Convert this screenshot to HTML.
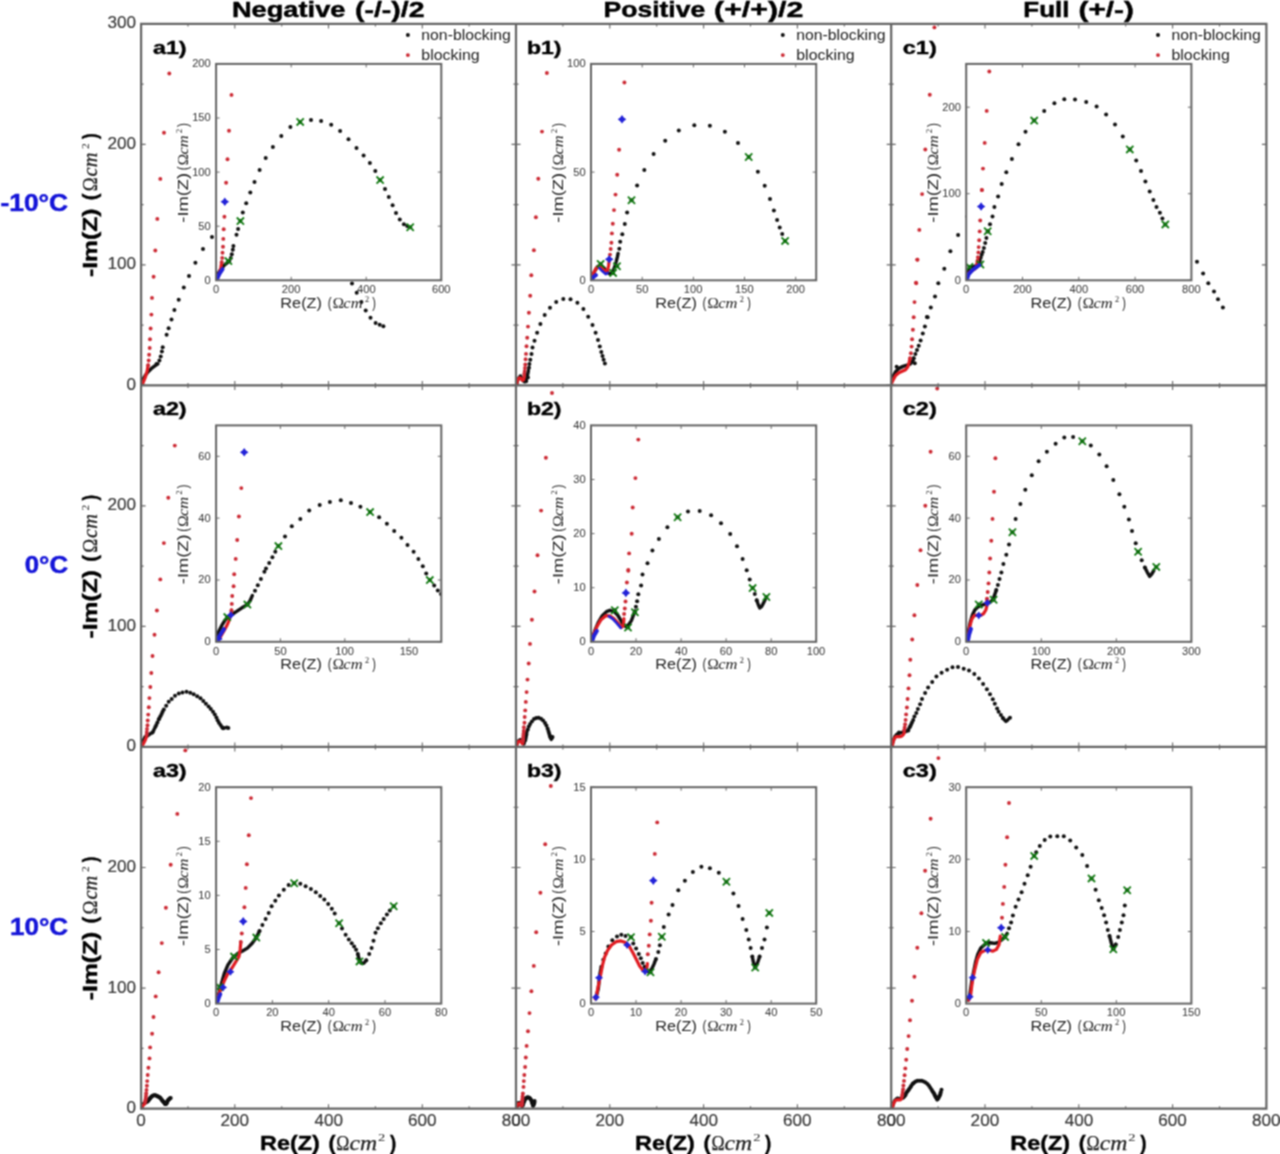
<!DOCTYPE html>
<html><head><meta charset="utf-8"><style>
html,body{margin:0;padding:0;background:#fff;}
svg{display:block;}
</style></head><body>
<svg width="1280" height="1154" viewBox="0 0 1280 1154">
<defs>
<filter id="blr" color-interpolation-filters="sRGB" x="0" y="0" width="1280" height="1154" filterUnits="userSpaceOnUse"><feConvolveMatrix order="3" kernelMatrix="1 2 1 2 4 2 1 2 1" divisor="16" edgeMode="duplicate"/></filter>
<clipPath id="ma1"><rect x="141.1" y="23.9" width="374.9" height="361.5"/></clipPath>
<clipPath id="ia1"><rect x="216.1" y="63.9" width="225.2" height="216.4"/></clipPath>
<clipPath id="mb1"><rect x="516.0" y="23.9" width="375.2" height="361.5"/></clipPath>
<clipPath id="ib1"><rect x="591.0" y="63.9" width="225.2" height="216.4"/></clipPath>
<clipPath id="mc1"><rect x="891.2" y="23.9" width="375.2" height="361.5"/></clipPath>
<clipPath id="ic1"><rect x="966.2" y="63.9" width="225.2" height="216.4"/></clipPath>
<clipPath id="ma2"><rect x="141.1" y="385.4" width="374.9" height="361.5"/></clipPath>
<clipPath id="ia2"><rect x="216.1" y="425.4" width="225.2" height="216.4"/></clipPath>
<clipPath id="mb2"><rect x="516.0" y="385.4" width="375.2" height="361.5"/></clipPath>
<clipPath id="ib2"><rect x="591.0" y="425.4" width="225.2" height="216.4"/></clipPath>
<clipPath id="mc2"><rect x="891.2" y="385.4" width="375.2" height="361.5"/></clipPath>
<clipPath id="ic2"><rect x="966.2" y="425.4" width="225.2" height="216.4"/></clipPath>
<clipPath id="ma3"><rect x="141.1" y="746.9" width="374.9" height="361.8"/></clipPath>
<clipPath id="ia3"><rect x="216.1" y="787.2" width="225.2" height="216.4"/></clipPath>
<clipPath id="mb3"><rect x="516.0" y="746.9" width="375.2" height="361.8"/></clipPath>
<clipPath id="ib3"><rect x="591.0" y="787.2" width="225.2" height="216.4"/></clipPath>
<clipPath id="mc3"><rect x="891.2" y="746.9" width="375.2" height="361.8"/></clipPath>
<clipPath id="ic3"><rect x="966.2" y="787.2" width="225.2" height="216.4"/></clipPath>
</defs>
<rect width="1280" height="1154" fill="#fff"/>
<g filter="url(#blr)">
<g clip-path="url(#ma1)">


<path d="M141.3 383.5 L142.9 379.4 L145.4 375.3 L147.9 372.0 L151.2 368.7 L154.5 366.2 L157.8 363.8" fill="none" stroke="#111" stroke-width="3.4" stroke-linejoin="round" stroke-linecap="round"/>

<g fill="#111"><circle cx="166.6" cy="334.8" r="2.0"/><circle cx="168.6" cy="328.2" r="2.0"/><circle cx="174.4" cy="309.9" r="2.0"/><circle cx="178.7" cy="299.7" r="2.0"/><circle cx="183.8" cy="287.5" r="2.0"/><circle cx="189.0" cy="276.0" r="2.0"/><circle cx="195.4" cy="262.7" r="2.0"/><circle cx="203.0" cy="249.1" r="2.0"/><circle cx="212.0" cy="237.1" r="2.0"/><circle cx="222.5" cy="224.6" r="2.0"/><circle cx="233.8" cy="214.5" r="2.0"/><circle cx="259.5" cy="206.9" r="2.0"/><circle cx="272.2" cy="207.9" r="2.0"/><circle cx="284.8" cy="212.1" r="2.0"/><circle cx="295.9" cy="219.1" r="2.0"/><circle cx="306.4" cy="228.2" r="2.0"/><circle cx="316.4" cy="237.9" r="2.0"/><circle cx="325.3" cy="246.5" r="2.0"/><circle cx="333.1" cy="254.6" r="2.0"/><circle cx="339.9" cy="263.8" r="2.0"/><circle cx="352.0" cy="283.6" r="2.0"/><circle cx="356.7" cy="292.7" r="2.0"/><circle cx="361.4" cy="301.9" r="2.0"/><circle cx="365.7" cy="310.5" r="2.0"/><circle cx="370.5" cy="317.8" r="2.0"/><circle cx="375.6" cy="323.0" r="2.0"/><circle cx="379.7" cy="324.8" r="2.0"/><circle cx="156.5" cy="364.0" r="2.0"/><circle cx="171.5" cy="319.5" r="2.0"/><circle cx="246.1" cy="208.9" r="2.0"/><circle cx="345.8" cy="273.9" r="2.0"/><circle cx="383.4" cy="326.3" r="2.0"/><circle cx="159.4" cy="360.5" r="2.0"/><circle cx="160.7" cy="356.4" r="2.0"/><circle cx="161.9" cy="351.4" r="2.0"/><circle cx="162.7" cy="347.3" r="2.0"/></g>
<path d="M148.1 365.2 L147.1 371.3 L145.2 377.4 L142.8 383.4" fill="none" stroke="#e01c22" stroke-width="3.2" stroke-linejoin="round" stroke-linecap="round"/>

<g fill="#cc2a34"><circle cx="160.3" cy="178.9" r="1.95"/><circle cx="157.3" cy="218.9" r="1.95"/><circle cx="155.3" cy="250.5" r="1.95"/><circle cx="153.6" cy="276.7" r="1.95"/><circle cx="151.4" cy="314.6" r="1.95"/><circle cx="150.6" cy="328.5" r="1.95"/><circle cx="150.0" cy="339.3" r="1.95"/><circle cx="149.7" cy="348.0" r="1.95"/><circle cx="149.1" cy="354.8" r="1.95"/><circle cx="148.7" cy="360.5" r="1.95"/><circle cx="148.1" cy="365.2" r="1.95"/><circle cx="152.0" cy="297.9" r="1.95"/><circle cx="169.3" cy="73.5" r="1.95"/><circle cx="164.0" cy="132.8" r="1.95"/></g>
</g>
<rect x="216.1" y="63.9" width="225.2" height="216.4" fill="#fff"/>
<g clip-path="url(#ia1)">


<path d="M216.3 278.6 L217.5 274.9 L219.5 271.2 L221.5 268.3 L224.2 265.3 L226.8 263.1 L229.5 260.9" fill="none" stroke="#111" stroke-width="3.4" stroke-linejoin="round" stroke-linecap="round"/>

<g fill="#111"><circle cx="236.5" cy="234.8" r="2.0"/><circle cx="238.1" cy="228.9" r="2.0"/><circle cx="242.8" cy="212.5" r="2.0"/><circle cx="246.2" cy="203.3" r="2.0"/><circle cx="250.3" cy="192.4" r="2.0"/><circle cx="254.5" cy="182.1" r="2.0"/><circle cx="259.6" cy="170.1" r="2.0"/><circle cx="265.7" cy="157.9" r="2.0"/><circle cx="272.9" cy="147.1" r="2.0"/><circle cx="281.3" cy="135.9" r="2.0"/><circle cx="290.4" cy="126.9" r="2.0"/><circle cx="311.0" cy="120.0" r="2.0"/><circle cx="321.1" cy="120.9" r="2.0"/><circle cx="331.2" cy="124.7" r="2.0"/><circle cx="340.1" cy="130.9" r="2.0"/><circle cx="348.5" cy="139.2" r="2.0"/><circle cx="356.5" cy="147.9" r="2.0"/><circle cx="363.6" cy="155.6" r="2.0"/><circle cx="369.9" cy="162.9" r="2.0"/><circle cx="375.3" cy="171.1" r="2.0"/><circle cx="385.0" cy="188.9" r="2.0"/><circle cx="388.8" cy="197.1" r="2.0"/><circle cx="392.6" cy="205.3" r="2.0"/><circle cx="396.0" cy="213.0" r="2.0"/><circle cx="399.8" cy="219.6" r="2.0"/><circle cx="403.9" cy="224.2" r="2.0"/><circle cx="407.2" cy="225.9" r="2.0"/><circle cx="228.4" cy="261.1" r="2.0"/><circle cx="240.4" cy="221.1" r="2.0"/><circle cx="300.2" cy="121.9" r="2.0"/><circle cx="380.1" cy="180.1" r="2.0"/><circle cx="410.2" cy="227.2" r="2.0"/><circle cx="230.8" cy="257.9" r="2.0"/><circle cx="231.8" cy="254.3" r="2.0"/><circle cx="232.8" cy="249.8" r="2.0"/><circle cx="233.4" cy="246.1" r="2.0"/></g>
<path d="M221.7 262.2 L220.9 267.6 L219.4 273.1 L217.5 278.5" fill="none" stroke="#e01c22" stroke-width="3.2" stroke-linejoin="round" stroke-linecap="round"/>

<g fill="#cc2a34"><circle cx="231.5" cy="94.9" r="1.95"/><circle cx="229.0" cy="130.8" r="1.95"/><circle cx="227.5" cy="159.2" r="1.95"/><circle cx="226.1" cy="182.7" r="1.95"/><circle cx="224.4" cy="216.7" r="1.95"/><circle cx="223.7" cy="229.2" r="1.95"/><circle cx="223.3" cy="238.9" r="1.95"/><circle cx="223.0" cy="246.7" r="1.95"/><circle cx="222.5" cy="252.8" r="1.95"/><circle cx="222.2" cy="257.9" r="1.95"/><circle cx="221.7" cy="262.2" r="1.95"/><circle cx="224.8" cy="201.8" r="1.95"/></g>
<path d="M224.8 257.5L232.0 264.7M224.8 264.7L232.0 257.5M236.8 217.5L244.0 224.7M236.8 224.7L244.0 217.5M296.6 118.3L303.8 125.5M296.6 125.5L303.8 118.3M376.5 176.5L383.7 183.7M376.5 183.7L383.7 176.5M406.6 223.6L413.8 230.8M406.6 230.8L413.8 223.6" stroke="#107a10" stroke-width="1.8" fill="none"/>
<path d="M217.0 278.9 L219.4 273.9 L222.5 269.2" fill="none" stroke="#2222d8" stroke-width="4" stroke-linejoin="round" stroke-linecap="round"/>


<path d="M224.8 197.5L226.6 200.0L229.1 201.8L226.6 203.6L224.8 206.1L223.0 203.6L220.5 201.8L223.0 200.0Z" fill="#2222d8"/>
</g>
<rect x="216.1" y="63.9" width="225.2" height="216.4" fill="none" stroke="#646464" stroke-width="2"/>
<g clip-path="url(#mb1)">
<path d="M516.6 384.5 L517.5 380.6 L519.0 377.8 L520.4 376.9 L521.8 378.5 L523.3 380.8 L524.7 381.8 L525.8 381.0 L526.8 378.0 L527.5 375.0 L528.1 372.4 L528.4 370.4" fill="none" stroke="#111" stroke-width="3.4" stroke-linejoin="round" stroke-linecap="round"/>



<g fill="#111"><circle cx="537.1" cy="332.7" r="2.0"/><circle cx="540.4" cy="324.0" r="2.0"/><circle cx="544.7" cy="315.1" r="2.0"/><circle cx="550.0" cy="307.7" r="2.0"/><circle cx="556.2" cy="302.0" r="2.0"/><circle cx="563.3" cy="299.0" r="2.0"/><circle cx="570.5" cy="299.3" r="2.0"/><circle cx="577.4" cy="302.7" r="2.0"/><circle cx="583.4" cy="308.9" r="2.0"/><circle cx="592.5" cy="325.0" r="2.0"/><circle cx="595.6" cy="332.8" r="2.0"/><circle cx="598.0" cy="340.1" r="2.0"/><circle cx="599.8" cy="346.6" r="2.0"/><circle cx="601.3" cy="351.9" r="2.0"/><circle cx="602.5" cy="356.0" r="2.0"/><circle cx="603.6" cy="359.7" r="2.0"/><circle cx="529.0" cy="367.8" r="2.0"/><circle cx="529.4" cy="363.9" r="2.0"/><circle cx="530.3" cy="359.8" r="2.0"/><circle cx="531.5" cy="354.1" r="2.0"/><circle cx="532.5" cy="347.6" r="2.0"/><circle cx="520.4" cy="376.3" r="2.0"/><circle cx="526.1" cy="381.3" r="2.0"/><circle cx="527.9" cy="377.6" r="2.0"/><circle cx="534.5" cy="340.8" r="2.0"/><circle cx="588.2" cy="316.7" r="2.0"/><circle cx="604.9" cy="363.5" r="2.0"/></g>
<path d="M516.6 384.5 L517.2 381.5 L518.3 378.9 L519.7 377.7 L521.1 378.8 L522.5 380.4 L523.6 379.8 L524.1 377.2 L524.4 374.1" fill="none" stroke="#e01c22" stroke-width="3.2" stroke-linejoin="round" stroke-linecap="round"/>

<g fill="#cc2a34"><circle cx="531.3" cy="275.2" r="1.95"/><circle cx="528.9" cy="312.7" r="1.95"/><circle cx="528.0" cy="326.6" r="1.95"/><circle cx="527.2" cy="337.7" r="1.95"/><circle cx="524.7" cy="371.1" r="1.95"/><circle cx="525.0" cy="368.0" r="1.95"/><circle cx="525.3" cy="364.5" r="1.95"/><circle cx="525.6" cy="359.3" r="1.95"/><circle cx="526.0" cy="353.9" r="1.95"/><circle cx="526.5" cy="346.3" r="1.95"/><circle cx="530.2" cy="295.8" r="1.95"/><circle cx="524.3" cy="373.7" r="1.95"/><circle cx="546.9" cy="73.0" r="1.95"/><circle cx="542.0" cy="131.6" r="1.95"/><circle cx="538.3" cy="178.8" r="1.95"/><circle cx="535.9" cy="217.3" r="1.95"/><circle cx="533.9" cy="250.2" r="1.95"/></g>
</g>
<rect x="591.0" y="63.9" width="225.2" height="216.4" fill="#fff"/>
<g clip-path="url(#ib1)">
<path d="M592.4 278.8 L594.4 271.7 L597.5 266.7 L600.6 265.1 L603.7 267.8 L606.8 272.1 L610.0 273.9 L612.3 272.4 L614.6 267.1 L616.2 261.6 L617.4 256.9 L618.1 253.4" fill="none" stroke="#111" stroke-width="3.4" stroke-linejoin="round" stroke-linecap="round"/>



<g fill="#111"><circle cx="637.1" cy="185.6" r="2.0"/><circle cx="644.3" cy="170.1" r="2.0"/><circle cx="653.6" cy="154.0" r="2.0"/><circle cx="665.2" cy="140.7" r="2.0"/><circle cx="678.8" cy="130.5" r="2.0"/><circle cx="694.3" cy="125.2" r="2.0"/><circle cx="709.9" cy="125.7" r="2.0"/><circle cx="724.9" cy="131.7" r="2.0"/><circle cx="738.0" cy="142.9" r="2.0"/><circle cx="757.9" cy="171.8" r="2.0"/><circle cx="764.7" cy="185.8" r="2.0"/><circle cx="770.0" cy="198.9" r="2.0"/><circle cx="773.9" cy="210.6" r="2.0"/><circle cx="777.1" cy="220.1" r="2.0"/><circle cx="779.7" cy="227.6" r="2.0"/><circle cx="782.2" cy="234.1" r="2.0"/><circle cx="619.3" cy="248.7" r="2.0"/><circle cx="620.2" cy="241.7" r="2.0"/><circle cx="622.3" cy="234.3" r="2.0"/><circle cx="624.8" cy="224.0" r="2.0"/><circle cx="627.1" cy="212.5" r="2.0"/><circle cx="600.6" cy="263.9" r="2.0"/><circle cx="613.1" cy="272.9" r="2.0"/><circle cx="617.0" cy="266.3" r="2.0"/><circle cx="631.5" cy="200.2" r="2.0"/><circle cx="748.7" cy="157.0" r="2.0"/><circle cx="785.1" cy="240.9" r="2.0"/></g>
<path d="M592.4 278.8 L593.6 273.3 L595.9 268.6 L599.0 266.4 L602.2 268.5 L605.3 271.3 L607.6 270.2 L608.6 265.5 L609.3 260.0" fill="none" stroke="#e01c22" stroke-width="3.2" stroke-linejoin="round" stroke-linecap="round"/>

<g fill="#cc2a34"><circle cx="624.4" cy="82.5" r="1.95"/><circle cx="619.1" cy="149.7" r="1.95"/><circle cx="617.2" cy="174.7" r="1.95"/><circle cx="615.5" cy="194.6" r="1.95"/><circle cx="610.0" cy="254.6" r="1.95"/><circle cx="610.7" cy="249.0" r="1.95"/><circle cx="611.4" cy="242.7" r="1.95"/><circle cx="611.9" cy="233.4" r="1.95"/><circle cx="612.8" cy="223.8" r="1.95"/><circle cx="614.0" cy="210.1" r="1.95"/><circle cx="622.0" cy="119.3" r="1.95"/><circle cx="609.2" cy="259.3" r="1.95"/></g>
<path d="M597.0 260.3L604.2 267.5M597.0 267.5L604.2 260.3M609.5 269.3L616.7 276.5M609.5 276.5L616.7 269.3M613.4 262.7L620.6 269.9M613.4 269.9L620.6 262.7M627.9 196.6L635.1 203.8M627.9 203.8L635.1 196.6M745.1 153.4L752.3 160.6M745.1 160.6L752.3 153.4M781.5 237.3L788.7 244.5M781.5 244.5L788.7 237.3" stroke="#107a10" stroke-width="1.8" fill="none"/>
<path d="M592.0 278.9 L593.6 276.8 L595.9 275.2" fill="none" stroke="#2222d8" stroke-width="4" stroke-linejoin="round" stroke-linecap="round"/>
<path d="M599.4 268.2 L602.5 271.3 L605.7 274.1 L607.6 272.9" fill="none" stroke="#2222d8" stroke-width="2.6" stroke-linejoin="round" stroke-linecap="round"/>

<path d="M622.0 115.0L623.8 117.5L626.3 119.3L623.8 121.2L622.0 123.6L620.2 121.2L617.7 119.3L620.2 117.5Z" fill="#2222d8"/><path d="M609.2 255.0L611.0 257.5L613.5 259.3L611.0 261.1L609.2 263.6L607.4 261.1L604.9 259.3L607.4 257.5Z" fill="#2222d8"/>
</g>
<rect x="591.0" y="63.9" width="225.2" height="216.4" fill="none" stroke="#646464" stroke-width="2"/>
<g clip-path="url(#mc1)">


<path d="M913.7 358.2 L912.9 360.6 L910.4 363.9 L907.1 365.2 L903.0 366.4 L898.9 368.4 L895.6 371.7 L893.1 376.3 L891.5 381.2 L890.3 384.5" fill="none" stroke="#111" stroke-width="3.4" stroke-linejoin="round" stroke-linecap="round"/>

<g fill="#111"><circle cx="935.0" cy="296.5" r="2.0"/><circle cx="938.3" cy="283.3" r="2.0"/><circle cx="944.3" cy="268.8" r="2.0"/><circle cx="950.4" cy="251.2" r="2.0"/><circle cx="958.1" cy="235.0" r="2.0"/><circle cx="967.4" cy="216.4" r="2.0"/><circle cx="978.3" cy="196.1" r="2.0"/><circle cx="990.0" cy="178.6" r="2.0"/><circle cx="1021.1" cy="149.5" r="2.0"/><circle cx="1038.1" cy="139.0" r="2.0"/><circle cx="1054.7" cy="133.3" r="2.0"/><circle cx="1072.5" cy="133.6" r="2.0"/><circle cx="1091.1" cy="137.4" r="2.0"/><circle cx="1108.5" cy="143.4" r="2.0"/><circle cx="1124.2" cy="154.6" r="2.0"/><circle cx="1139.2" cy="168.4" r="2.0"/><circle cx="1152.1" cy="185.3" r="2.0"/><circle cx="1174.4" cy="218.8" r="2.0"/><circle cx="1182.4" cy="233.3" r="2.0"/><circle cx="1189.7" cy="247.8" r="2.0"/><circle cx="1197.0" cy="261.7" r="2.0"/><circle cx="1203.1" cy="273.5" r="2.0"/><circle cx="1208.3" cy="283.3" r="2.0"/><circle cx="1214.0" cy="291.4" r="2.0"/><circle cx="1218.0" cy="299.2" r="2.0"/><circle cx="896.6" cy="366.7" r="2.0"/><circle cx="914.8" cy="363.3" r="2.0"/><circle cx="926.9" cy="317.1" r="2.0"/><circle cx="1004.6" cy="163.0" r="2.0"/><circle cx="1163.9" cy="203.2" r="2.0"/><circle cx="1222.9" cy="307.6" r="2.0"/><circle cx="930.8" cy="307.4" r="2.0"/><circle cx="927.6" cy="317.3" r="2.0"/><circle cx="924.9" cy="326.5" r="2.0"/><circle cx="922.8" cy="333.4" r="2.0"/><circle cx="920.6" cy="340.4" r="2.0"/><circle cx="918.7" cy="345.8" r="2.0"/><circle cx="917.0" cy="349.9" r="2.0"/><circle cx="915.4" cy="354.0" r="2.0"/><circle cx="913.7" cy="358.2" r="2.0"/></g>

<path d="M910.1 358.2 L909.1 362.3 L907.9 366.7 L905.5 369.7 L902.2 371.3 L898.9 372.7 L895.6 375.5 L893.1 379.9 L891.0 384.5" fill="none" stroke="#e01c22" stroke-width="3.2" stroke-linejoin="round" stroke-linecap="round"/>
<g fill="#cc2a34"><circle cx="929.8" cy="94.8" r="1.95"/><circle cx="925.3" cy="149.5" r="1.95"/><circle cx="922.1" cy="194.1" r="1.95"/><circle cx="919.3" cy="229.9" r="1.95"/><circle cx="917.2" cy="259.6" r="1.95"/><circle cx="916.0" cy="282.6" r="1.95"/><circle cx="917.5" cy="259.8" r="1.95"/><circle cx="916.2" cy="283.2" r="1.95"/><circle cx="914.5" cy="302.1" r="1.95"/><circle cx="913.7" cy="317.3" r="1.95"/><circle cx="912.9" cy="329.7" r="1.95"/><circle cx="912.1" cy="339.2" r="1.95"/><circle cx="911.6" cy="346.6" r="1.95"/><circle cx="910.9" cy="353.2" r="1.95"/><circle cx="910.1" cy="358.2" r="1.95"/><circle cx="934.4" cy="27.4" r="1.95"/></g>
</g>
<rect x="966.2" y="63.9" width="225.2" height="216.4" fill="#fff"/>
<g clip-path="url(#ic1)">


<path d="M979.7 260.7 L979.2 262.5 L977.7 264.9 L975.8 265.8 L973.3 266.6 L970.8 268.1 L968.8 270.4 L967.4 273.7 L966.4 277.3 L965.7 279.7" fill="none" stroke="#111" stroke-width="3.4" stroke-linejoin="round" stroke-linecap="round"/>

<g fill="#111"><circle cx="992.5" cy="216.4" r="2.0"/><circle cx="994.4" cy="206.9" r="2.0"/><circle cx="998.1" cy="196.5" r="2.0"/><circle cx="1001.7" cy="183.9" r="2.0"/><circle cx="1006.3" cy="172.2" r="2.0"/><circle cx="1011.9" cy="158.9" r="2.0"/><circle cx="1018.5" cy="144.3" r="2.0"/><circle cx="1025.5" cy="131.7" r="2.0"/><circle cx="1044.2" cy="110.9" r="2.0"/><circle cx="1054.4" cy="103.3" r="2.0"/><circle cx="1064.3" cy="99.2" r="2.0"/><circle cx="1075.0" cy="99.5" r="2.0"/><circle cx="1086.2" cy="102.1" r="2.0"/><circle cx="1096.6" cy="106.5" r="2.0"/><circle cx="1106.1" cy="114.5" r="2.0"/><circle cx="1115.0" cy="124.4" r="2.0"/><circle cx="1122.8" cy="136.6" r="2.0"/><circle cx="1136.2" cy="160.6" r="2.0"/><circle cx="1141.0" cy="171.0" r="2.0"/><circle cx="1145.4" cy="181.5" r="2.0"/><circle cx="1149.7" cy="191.4" r="2.0"/><circle cx="1153.4" cy="199.9" r="2.0"/><circle cx="1156.5" cy="206.9" r="2.0"/><circle cx="1159.9" cy="212.8" r="2.0"/><circle cx="1162.4" cy="218.4" r="2.0"/><circle cx="969.5" cy="266.9" r="2.0"/><circle cx="980.4" cy="264.5" r="2.0"/><circle cx="987.7" cy="231.2" r="2.0"/><circle cx="1034.2" cy="120.6" r="2.0"/><circle cx="1129.8" cy="149.4" r="2.0"/><circle cx="1165.3" cy="224.4" r="2.0"/><circle cx="990.0" cy="224.3" r="2.0"/><circle cx="988.0" cy="231.4" r="2.0"/><circle cx="986.4" cy="238.0" r="2.0"/><circle cx="985.2" cy="243.0" r="2.0"/><circle cx="983.9" cy="247.9" r="2.0"/><circle cx="982.7" cy="251.9" r="2.0"/><circle cx="981.7" cy="254.8" r="2.0"/><circle cx="980.7" cy="257.8" r="2.0"/><circle cx="979.7" cy="260.7" r="2.0"/></g>

<path d="M977.5 260.7 L976.9 263.7 L976.3 266.9 L974.8 269.0 L972.8 270.2 L970.8 271.1 L968.8 273.2 L967.4 276.3 L966.1 279.7" fill="none" stroke="#e01c22" stroke-width="3.2" stroke-linejoin="round" stroke-linecap="round"/>
<g fill="#cc2a34"><circle cx="989.3" cy="71.5" r="1.95"/><circle cx="986.7" cy="110.9" r="1.95"/><circle cx="984.7" cy="142.9" r="1.95"/><circle cx="983.0" cy="168.6" r="1.95"/><circle cx="981.8" cy="190.0" r="1.95"/><circle cx="981.1" cy="206.5" r="1.95"/><circle cx="982.0" cy="190.1" r="1.95"/><circle cx="981.2" cy="206.9" r="1.95"/><circle cx="980.2" cy="220.5" r="1.95"/><circle cx="979.7" cy="231.4" r="1.95"/><circle cx="979.2" cy="240.3" r="1.95"/><circle cx="978.7" cy="247.1" r="1.95"/><circle cx="978.4" cy="252.4" r="1.95"/><circle cx="978.0" cy="257.2" r="1.95"/><circle cx="977.5" cy="260.7" r="1.95"/></g>
<path d="M965.9 263.3L973.1 270.5M965.9 270.5L973.1 263.3M976.8 260.9L984.0 268.1M976.8 268.1L984.0 260.9M984.1 227.6L991.3 234.8M984.1 234.8L991.3 227.6M1030.6 117.0L1037.8 124.2M1030.6 124.2L1037.8 117.0M1126.2 145.8L1133.4 153.0M1126.2 153.0L1133.4 145.8M1161.7 220.8L1168.9 228.0M1161.7 228.0L1168.9 220.8" stroke="#107a10" stroke-width="1.8" fill="none"/>
<path d="M966.8 279.7 L968.7 274.2 L972.6 270.0 L976.7 266.9 L979.2 265.2" fill="none" stroke="#2222d8" stroke-width="4" stroke-linejoin="round" stroke-linecap="round"/>


<path d="M981.1 202.2L982.9 204.7L985.4 206.5L982.9 208.3L981.1 210.8L979.3 208.3L976.8 206.5L979.3 204.7Z" fill="#2222d8"/>
</g>
<rect x="966.2" y="63.9" width="225.2" height="216.4" fill="none" stroke="#646464" stroke-width="2"/>
<g clip-path="url(#ma2)">
<path d="M141.3 746.2 L141.4 744.8 L142.2 742.7 L143.2 740.5 L144.4 738.4 L145.7 737.0 L146.7 736.3 L148.5 735.1 L150.5 733.6 L152.5 732.4 L153.5 730.8 L154.3 728.9" fill="none" stroke="#111" stroke-width="3.4" stroke-linejoin="round" stroke-linecap="round"/>



<g fill="#111"><circle cx="159.3" cy="718.4" r="2.0"/><circle cx="160.4" cy="716.2" r="2.0"/><circle cx="161.6" cy="713.9" r="2.0"/><circle cx="162.6" cy="711.8" r="2.0"/><circle cx="166.2" cy="705.8" r="2.0"/><circle cx="168.7" cy="701.8" r="2.0"/><circle cx="171.7" cy="699.0" r="2.0"/><circle cx="175.0" cy="695.7" r="2.0"/><circle cx="178.8" cy="693.6" r="2.0"/><circle cx="182.5" cy="692.4" r="2.0"/><circle cx="186.5" cy="691.7" r="2.0"/><circle cx="190.2" cy="692.8" r="2.0"/><circle cx="193.7" cy="694.3" r="2.0"/><circle cx="200.5" cy="698.3" r="2.0"/><circle cx="203.3" cy="700.9" r="2.0"/><circle cx="205.9" cy="703.7" r="2.0"/><circle cx="208.6" cy="706.4" r="2.0"/><circle cx="210.8" cy="709.1" r="2.0"/><circle cx="213.0" cy="711.8" r="2.0"/><circle cx="214.8" cy="714.6" r="2.0"/><circle cx="216.4" cy="717.4" r="2.0"/><circle cx="217.6" cy="720.3" r="2.0"/><circle cx="220.5" cy="725.0" r="2.0"/><circle cx="221.9" cy="726.9" r="2.0"/><circle cx="223.0" cy="728.3" r="2.0"/><circle cx="155.3" cy="727.0" r="2.0"/><circle cx="156.3" cy="724.9" r="2.0"/><circle cx="157.4" cy="722.4" r="2.0"/><circle cx="158.7" cy="719.6" r="2.0"/><circle cx="163.8" cy="709.6" r="2.0"/><circle cx="197.2" cy="696.3" r="2.0"/><circle cx="218.9" cy="722.8" r="2.0"/><circle cx="152.5" cy="732.4" r="2.0"/><circle cx="145.2" cy="737.3" r="2.0"/><circle cx="223.9" cy="727.9" r="2.0"/><circle cx="226.8" cy="727.4" r="2.0"/><circle cx="228.3" cy="727.9" r="2.0"/></g>
<path d="M146.7 734.6 L146.4 736.5 L145.7 738.9 L144.9 740.8 L143.9 742.7 L142.9 744.6 L141.9 746.5" fill="none" stroke="#e01c22" stroke-width="3.2" stroke-linejoin="round" stroke-linecap="round"/>

<g fill="#cc2a34"><circle cx="150.3" cy="687.0" r="1.95"/><circle cx="149.4" cy="698.1" r="1.95"/><circle cx="148.8" cy="707.2" r="1.95"/><circle cx="148.2" cy="714.6" r="1.95"/><circle cx="147.7" cy="720.5" r="1.95"/><circle cx="147.5" cy="725.3" r="1.95"/><circle cx="147.0" cy="729.0" r="1.95"/><circle cx="146.8" cy="732.1" r="1.95"/><circle cx="146.7" cy="734.6" r="1.95"/><circle cx="151.3" cy="673.0" r="1.95"/><circle cx="174.8" cy="445.6" r="1.95"/><circle cx="168.3" cy="497.7" r="1.95"/><circle cx="163.9" cy="543.1" r="1.95"/><circle cx="160.3" cy="579.4" r="1.95"/><circle cx="156.9" cy="610.5" r="1.95"/><circle cx="154.5" cy="634.7" r="1.95"/><circle cx="152.5" cy="656.0" r="1.95"/></g>
</g>
<rect x="216.1" y="425.4" width="225.2" height="216.4" fill="#fff"/>
<g clip-path="url(#ia2)">
<path d="M216.6 640.0 L216.9 636.5 L219.0 631.0 L221.8 625.4 L225.2 619.9 L228.7 616.4 L231.5 614.7 L236.3 611.6 L241.9 607.8 L247.4 604.6 L250.2 600.5 L252.3 595.6" fill="none" stroke="#111" stroke-width="3.4" stroke-linejoin="round" stroke-linecap="round"/>



<g fill="#111"><circle cx="266.0" cy="568.6" r="2.0"/><circle cx="269.2" cy="563.1" r="2.0"/><circle cx="272.4" cy="557.2" r="2.0"/><circle cx="275.3" cy="551.7" r="2.0"/><circle cx="285.0" cy="536.4" r="2.0"/><circle cx="291.8" cy="526.2" r="2.0"/><circle cx="300.3" cy="518.9" r="2.0"/><circle cx="309.2" cy="510.4" r="2.0"/><circle cx="319.7" cy="505.1" r="2.0"/><circle cx="329.9" cy="501.9" r="2.0"/><circle cx="340.8" cy="500.2" r="2.0"/><circle cx="351.0" cy="502.9" r="2.0"/><circle cx="360.4" cy="506.8" r="2.0"/><circle cx="379.1" cy="517.2" r="2.0"/><circle cx="386.9" cy="523.8" r="2.0"/><circle cx="394.2" cy="531.0" r="2.0"/><circle cx="401.4" cy="537.8" r="2.0"/><circle cx="407.5" cy="544.9" r="2.0"/><circle cx="413.6" cy="551.7" r="2.0"/><circle cx="418.4" cy="558.9" r="2.0"/><circle cx="422.8" cy="566.2" r="2.0"/><circle cx="426.2" cy="573.5" r="2.0"/><circle cx="434.2" cy="585.6" r="2.0"/><circle cx="437.8" cy="590.5" r="2.0"/><circle cx="441.0" cy="594.1" r="2.0"/><circle cx="255.0" cy="590.8" r="2.0"/><circle cx="257.8" cy="585.2" r="2.0"/><circle cx="260.9" cy="579.0" r="2.0"/><circle cx="264.4" cy="571.7" r="2.0"/><circle cx="278.4" cy="546.1" r="2.0"/><circle cx="370.1" cy="512.1" r="2.0"/><circle cx="429.8" cy="580.1" r="2.0"/><circle cx="247.4" cy="604.6" r="2.0"/><circle cx="227.3" cy="617.1" r="2.0"/></g>
<path d="M231.5 610.2 L230.8 615.0 L228.7 621.3 L226.6 626.1 L223.9 631.0 L221.1 635.8 L218.3 640.7" fill="none" stroke="#e01c22" stroke-width="3.2" stroke-linejoin="round" stroke-linecap="round"/>

<g fill="#cc2a34"><circle cx="241.3" cy="488.1" r="1.95"/><circle cx="238.9" cy="516.5" r="1.95"/><circle cx="237.2" cy="540.0" r="1.95"/><circle cx="235.7" cy="558.9" r="1.95"/><circle cx="234.2" cy="574.2" r="1.95"/><circle cx="233.6" cy="586.3" r="1.95"/><circle cx="232.2" cy="596.0" r="1.95"/><circle cx="231.8" cy="603.9" r="1.95"/><circle cx="231.5" cy="610.2" r="1.95"/><circle cx="244.2" cy="452.2" r="1.95"/></g>
<path d="M274.8 542.5L282.0 549.7M274.8 549.7L282.0 542.5M366.5 508.5L373.7 515.7M366.5 515.7L373.7 508.5M426.2 576.5L433.4 583.7M426.2 583.7L433.4 576.5M243.8 601.0L251.0 608.2M243.8 608.2L251.0 601.0M223.7 613.5L230.9 620.7M223.7 620.7L230.9 613.5" stroke="#107a10" stroke-width="1.8" fill="none"/>
<path d="M217.6 641.0 L219.0 636.9 L221.8 632.4 L223.9 629.2" fill="none" stroke="#2222d8" stroke-width="4" stroke-linejoin="round" stroke-linecap="round"/>

<path d="M230.8 611.0L232.5 613.4L234.8 615.0L232.5 616.7L230.8 619.0L229.1 616.7L226.8 615.0L229.1 613.4Z" fill="#2222d8"/><path d="M218.7 634.9L220.3 637.3L222.7 638.9L220.3 640.6L218.7 642.9L217.0 640.6L214.7 638.9L217.0 637.3Z" fill="#2222d8"/>
<path d="M244.2 447.9L246.0 450.4L248.5 452.2L246.0 454.0L244.2 456.5L242.4 454.0L239.9 452.2L242.4 450.4Z" fill="#2222d8"/>
</g>
<rect x="216.1" y="425.4" width="225.2" height="216.4" fill="none" stroke="#646464" stroke-width="2"/>
<g clip-path="url(#mb2)">
<path d="M516.3 746.3 L516.8 744.5 L517.5 742.6 L518.4 741.1 L519.2 740.2 L519.9 739.9 L520.8 740.2 L521.5 740.9 L522.3 742.2 L522.8 743.3 L523.3 743.5 L523.8 743.1 L524.4 742.2 L524.9 740.9 L525.1 740.0" fill="none" stroke="#111" stroke-width="3.4" stroke-linejoin="round" stroke-linecap="round"/>
<path d="M550.5 737.6 L550.9 738.7 L551.2 739.4 L551.5 739.1 L552.0 738.2 L552.3 737.5" fill="none" stroke="#111" stroke-width="3.4" stroke-linejoin="round" stroke-linecap="round"/>


<g fill="#111"><circle cx="527.8" cy="729.4" r="2.0"/><circle cx="528.8" cy="726.6" r="2.0"/><circle cx="530.1" cy="724.0" r="2.0"/><circle cx="531.9" cy="721.4" r="2.0"/><circle cx="536.2" cy="717.9" r="2.0"/><circle cx="538.6" cy="717.7" r="2.0"/><circle cx="541.0" cy="718.7" r="2.0"/><circle cx="543.1" cy="720.5" r="2.0"/><circle cx="545.0" cy="722.9" r="2.0"/><circle cx="546.4" cy="725.6" r="2.0"/><circle cx="547.6" cy="728.4" r="2.0"/><circle cx="548.4" cy="731.0" r="2.0"/><circle cx="549.0" cy="733.0" r="2.0"/><circle cx="550.1" cy="736.3" r="2.0"/><circle cx="550.5" cy="737.6" r="2.0"/><circle cx="525.4" cy="739.1" r="2.0"/><circle cx="525.6" cy="737.9" r="2.0"/><circle cx="525.9" cy="736.3" r="2.0"/><circle cx="526.4" cy="734.4" r="2.0"/><circle cx="526.7" cy="731.9" r="2.0"/><circle cx="534.0" cy="719.1" r="2.0"/><circle cx="549.6" cy="734.9" r="2.0"/><circle cx="552.5" cy="736.9" r="2.0"/><circle cx="521.0" cy="739.9" r="2.0"/><circle cx="525.1" cy="740.3" r="2.0"/><circle cx="523.7" cy="743.7" r="2.0"/></g>
<path d="M516.2 746.6 L516.5 745.4 L517.2 743.6 L518.1 742.0 L519.1 741.1 L519.9 741.1 L520.8 741.8 L521.7 742.8 L522.4 743.6 L522.8 743.3 L522.9 741.7" fill="none" stroke="#e01c22" stroke-width="3.2" stroke-linejoin="round" stroke-linecap="round"/>

<g fill="#cc2a34"><circle cx="525.8" cy="701.9" r="1.95"/><circle cx="525.2" cy="710.4" r="1.95"/><circle cx="524.7" cy="717.0" r="1.95"/><circle cx="524.5" cy="722.8" r="1.95"/><circle cx="523.9" cy="727.2" r="1.95"/><circle cx="523.8" cy="730.9" r="1.95"/><circle cx="522.9" cy="740.7" r="1.95"/><circle cx="523.0" cy="739.5" r="1.95"/><circle cx="523.2" cy="737.9" r="1.95"/><circle cx="523.5" cy="733.7" r="1.95"/><circle cx="523.8" cy="731.1" r="1.95"/><circle cx="523.3" cy="736.0" r="1.95"/><circle cx="552.0" cy="393.0" r="1.95"/><circle cx="545.9" cy="457.7" r="1.95"/><circle cx="541.1" cy="510.6" r="1.95"/><circle cx="537.5" cy="555.2" r="1.95"/><circle cx="534.5" cy="591.5" r="1.95"/><circle cx="531.9" cy="619.7" r="1.95"/><circle cx="530.0" cy="643.9" r="1.95"/><circle cx="528.7" cy="663.5" r="1.95"/><circle cx="527.5" cy="679.6" r="1.95"/><circle cx="526.6" cy="692.1" r="1.95"/></g>
</g>
<rect x="591.0" y="425.4" width="225.2" height="216.4" fill="#fff"/>
<g clip-path="url(#ib2)">
<path d="M592.6 639.3 L594.7 631.0 L598.2 622.7 L602.3 615.7 L606.5 611.6 L609.9 610.3 L614.1 611.6 L617.6 615.0 L621.0 620.6 L623.8 625.4 L625.9 626.5 L628.6 624.7 L631.4 620.6 L633.5 615.0 L634.9 610.9" fill="none" stroke="#111" stroke-width="3.4" stroke-linejoin="round" stroke-linecap="round"/>
<path d="M756.7 600.2 L758.4 605.0 L759.8 608.0 L761.5 606.7 L763.7 602.6 L765.2 599.5" fill="none" stroke="#111" stroke-width="3.4" stroke-linejoin="round" stroke-linecap="round"/>


<g fill="#111"><circle cx="647.5" cy="563.3" r="2.0"/><circle cx="652.4" cy="550.4" r="2.0"/><circle cx="658.9" cy="539.0" r="2.0"/><circle cx="667.4" cy="527.2" r="2.0"/><circle cx="688.0" cy="511.6" r="2.0"/><circle cx="699.7" cy="510.9" r="2.0"/><circle cx="711.1" cy="515.3" r="2.0"/><circle cx="721.0" cy="523.3" r="2.0"/><circle cx="730.2" cy="533.9" r="2.0"/><circle cx="737.0" cy="546.3" r="2.0"/><circle cx="742.6" cy="558.9" r="2.0"/><circle cx="746.7" cy="570.3" r="2.0"/><circle cx="749.7" cy="579.6" r="2.0"/><circle cx="754.8" cy="594.1" r="2.0"/><circle cx="756.7" cy="600.2" r="2.0"/><circle cx="635.9" cy="606.7" r="2.0"/><circle cx="637.1" cy="601.2" r="2.0"/><circle cx="638.3" cy="594.2" r="2.0"/><circle cx="641.1" cy="585.6" r="2.0"/><circle cx="642.5" cy="574.5" r="2.0"/><circle cx="677.6" cy="517.2" r="2.0"/><circle cx="752.6" cy="588.1" r="2.0"/><circle cx="766.4" cy="597.0" r="2.0"/><circle cx="614.8" cy="610.2" r="2.0"/><circle cx="634.9" cy="612.3" r="2.0"/><circle cx="628.0" cy="627.5" r="2.0"/></g>
<path d="M591.9 640.7 L593.3 635.1 L596.8 626.8 L600.9 619.9 L605.8 615.7 L609.9 615.9 L614.1 618.8 L618.3 623.3 L621.7 627.2 L623.5 625.4 L623.9 618.5" fill="none" stroke="#e01c22" stroke-width="3.2" stroke-linejoin="round" stroke-linecap="round"/>

<g fill="#cc2a34"><circle cx="638.3" cy="439.6" r="1.95"/><circle cx="635.4" cy="478.1" r="1.95"/><circle cx="632.7" cy="507.5" r="1.95"/><circle cx="631.7" cy="533.7" r="1.95"/><circle cx="629.1" cy="553.4" r="1.95"/><circle cx="628.3" cy="569.9" r="1.95"/><circle cx="624.1" cy="614.0" r="1.95"/><circle cx="624.8" cy="608.5" r="1.95"/><circle cx="625.5" cy="601.5" r="1.95"/><circle cx="626.9" cy="582.5" r="1.95"/><circle cx="628.3" cy="570.7" r="1.95"/><circle cx="625.9" cy="592.9" r="1.95"/></g>
<path d="M674.0 513.6L681.2 520.8M674.0 520.8L681.2 513.6M749.0 584.5L756.2 591.7M749.0 591.7L756.2 584.5M762.8 593.4L770.0 600.6M762.8 600.6L770.0 593.4M611.2 606.6L618.4 613.8M611.2 613.8L618.4 606.6M631.3 608.7L638.5 615.9M631.3 615.9L638.5 608.7M624.4 623.9L631.6 631.1M624.4 631.1L631.6 623.9" stroke="#107a10" stroke-width="1.8" fill="none"/>
<path d="M591.9 641.4 L594.0 635.8 L596.8 631.0" fill="none" stroke="#2222d8" stroke-width="4" stroke-linejoin="round" stroke-linecap="round"/>
<path d="M608.9 616.3 L612.7 618.8 L616.9 623.3 L620.7 627.9" fill="none" stroke="#2222d8" stroke-width="2.6" stroke-linejoin="round" stroke-linecap="round"/>

<path d="M625.9 588.6L627.7 591.1L630.2 592.9L627.7 594.7L625.9 597.2L624.1 594.7L621.6 592.9L624.1 591.1Z" fill="#2222d8"/>
</g>
<rect x="591.0" y="425.4" width="225.2" height="216.4" fill="none" stroke="#646464" stroke-width="2"/>
<g clip-path="url(#mc2)">
<path d="M910.0 726.7 L909.0 728.4 L907.8 730.5 L905.9 731.6 L903.4 732.1 L901.0 732.6 L898.6 733.3 L896.6 734.5 L895.1 736.3 L893.7 739.4 L892.7 742.4 L892.0 745.5 L891.7 746.7" fill="none" stroke="#111" stroke-width="3.4" stroke-linejoin="round" stroke-linecap="round"/>
<path d="M1002.8 717.9 L1004.4 719.8 L1005.9 721.4 L1007.1 720.6 L1008.5 719.0" fill="none" stroke="#111" stroke-width="3.4" stroke-linejoin="round" stroke-linecap="round"/>


<g fill="#111"><circle cx="916.3" cy="713.0" r="2.0"/><circle cx="917.9" cy="708.9" r="2.0"/><circle cx="922.0" cy="699.0" r="2.0"/><circle cx="925.1" cy="693.1" r="2.0"/><circle cx="928.1" cy="687.6" r="2.0"/><circle cx="932.2" cy="682.0" r="2.0"/><circle cx="936.4" cy="676.5" r="2.0"/><circle cx="941.6" cy="672.8" r="2.0"/><circle cx="947.1" cy="669.7" r="2.0"/><circle cx="952.5" cy="667.3" r="2.0"/><circle cx="958.0" cy="667.1" r="2.0"/><circle cx="969.0" cy="670.4" r="2.0"/><circle cx="974.3" cy="673.9" r="2.0"/><circle cx="978.9" cy="678.5" r="2.0"/><circle cx="983.1" cy="683.9" r="2.0"/><circle cx="986.9" cy="689.3" r="2.0"/><circle cx="990.0" cy="694.3" r="2.0"/><circle cx="992.8" cy="699.2" r="2.0"/><circle cx="994.8" cy="703.7" r="2.0"/><circle cx="997.1" cy="708.5" r="2.0"/><circle cx="1000.9" cy="715.1" r="2.0"/><circle cx="1002.8" cy="717.9" r="2.0"/><circle cx="914.4" cy="716.5" r="2.0"/><circle cx="913.2" cy="719.9" r="2.0"/><circle cx="912.0" cy="722.5" r="2.0"/><circle cx="911.0" cy="724.8" r="2.0"/><circle cx="910.0" cy="726.7" r="2.0"/><circle cx="920.1" cy="704.2" r="2.0"/><circle cx="963.7" cy="668.7" r="2.0"/><circle cx="998.6" cy="711.8" r="2.0"/><circle cx="1010.0" cy="717.7" r="2.0"/><circle cx="899.0" cy="732.4" r="2.0"/><circle cx="908.3" cy="730.5" r="2.0"/></g>
<path d="M904.2 730.1 L904.2 732.7 L903.4 734.5 L902.0 736.0 L900.0 736.6 L898.1 736.5 L896.1 736.7 L894.6 738.2 L893.4 740.9 L892.7 743.9 L892.2 746.7" fill="none" stroke="#e01c22" stroke-width="3.2" stroke-linejoin="round" stroke-linecap="round"/>

<g fill="#cc2a34"><circle cx="909.5" cy="675.3" r="1.95"/><circle cx="908.5" cy="688.4" r="1.95"/><circle cx="907.6" cy="699.0" r="1.95"/><circle cx="906.9" cy="707.5" r="1.95"/><circle cx="906.1" cy="714.4" r="1.95"/><circle cx="905.6" cy="719.9" r="1.95"/><circle cx="905.1" cy="724.2" r="1.95"/><circle cx="904.7" cy="727.5" r="1.95"/><circle cx="904.2" cy="730.1" r="1.95"/><circle cx="937.2" cy="388.6" r="1.95"/><circle cx="930.6" cy="451.7" r="1.95"/><circle cx="925.3" cy="505.7" r="1.95"/><circle cx="920.5" cy="550.3" r="1.95"/><circle cx="917.3" cy="585.0" r="1.95"/><circle cx="914.4" cy="615.3" r="1.95"/><circle cx="912.2" cy="639.5" r="1.95"/><circle cx="910.3" cy="659.7" r="1.95"/></g>
</g>
<rect x="966.2" y="425.4" width="225.2" height="216.4" fill="#fff"/>
<g clip-path="url(#ic2)">
<path d="M996.3 590.1 L994.8 594.4 L992.8 599.8 L989.7 602.6 L985.8 603.8 L981.9 605.2 L978.0 606.9 L974.8 610.0 L972.5 614.7 L970.2 622.5 L968.6 630.3 L967.4 638.1 L967.0 641.2" fill="none" stroke="#111" stroke-width="3.4" stroke-linejoin="round" stroke-linecap="round"/>
<path d="M1144.9 567.4 L1147.3 572.3 L1149.7 576.4 L1151.7 574.2 L1153.9 570.3" fill="none" stroke="#111" stroke-width="3.4" stroke-linejoin="round" stroke-linecap="round"/>


<g fill="#111"><circle cx="1006.3" cy="554.8" r="2.0"/><circle cx="1009.0" cy="544.4" r="2.0"/><circle cx="1015.6" cy="518.9" r="2.0"/><circle cx="1020.4" cy="503.9" r="2.0"/><circle cx="1025.3" cy="489.8" r="2.0"/><circle cx="1031.8" cy="475.2" r="2.0"/><circle cx="1038.6" cy="461.2" r="2.0"/><circle cx="1046.9" cy="451.7" r="2.0"/><circle cx="1055.6" cy="443.7" r="2.0"/><circle cx="1064.3" cy="437.6" r="2.0"/><circle cx="1073.1" cy="437.1" r="2.0"/><circle cx="1090.8" cy="445.6" r="2.0"/><circle cx="1099.3" cy="454.6" r="2.0"/><circle cx="1106.6" cy="466.2" r="2.0"/><circle cx="1113.3" cy="480.1" r="2.0"/><circle cx="1119.4" cy="494.2" r="2.0"/><circle cx="1124.3" cy="506.8" r="2.0"/><circle cx="1128.9" cy="519.4" r="2.0"/><circle cx="1132.0" cy="531.0" r="2.0"/><circle cx="1135.7" cy="543.2" r="2.0"/><circle cx="1141.7" cy="560.2" r="2.0"/><circle cx="1144.9" cy="567.4" r="2.0"/><circle cx="1003.4" cy="563.9" r="2.0"/><circle cx="1001.4" cy="572.5" r="2.0"/><circle cx="999.5" cy="579.1" r="2.0"/><circle cx="997.9" cy="585.0" r="2.0"/><circle cx="996.3" cy="590.1" r="2.0"/><circle cx="1012.4" cy="532.2" r="2.0"/><circle cx="1082.3" cy="441.3" r="2.0"/><circle cx="1138.1" cy="551.7" r="2.0"/><circle cx="1156.3" cy="566.9" r="2.0"/><circle cx="978.8" cy="604.5" r="2.0"/><circle cx="993.6" cy="599.8" r="2.0"/></g>
<path d="M987.0 598.7 L987.0 605.3 L985.8 610.0 L983.4 613.9 L980.3 615.5 L977.2 615.1 L974.1 615.6 L971.7 619.4 L969.8 626.4 L968.6 634.2 L967.8 641.2" fill="none" stroke="#e01c22" stroke-width="3.2" stroke-linejoin="round" stroke-linecap="round"/>

<g fill="#cc2a34"><circle cx="995.4" cy="458.2" r="1.95"/><circle cx="994.0" cy="491.7" r="1.95"/><circle cx="992.5" cy="518.9" r="1.95"/><circle cx="991.3" cy="540.7" r="1.95"/><circle cx="990.1" cy="558.5" r="1.95"/><circle cx="989.3" cy="572.5" r="1.95"/><circle cx="988.5" cy="583.4" r="1.95"/><circle cx="987.7" cy="592.0" r="1.95"/><circle cx="987.0" cy="598.7" r="1.95"/></g>
<path d="M1008.8 528.6L1016.0 535.8M1008.8 535.8L1016.0 528.6M1078.7 437.7L1085.9 444.9M1078.7 444.9L1085.9 437.7M1134.5 548.1L1141.7 555.3M1134.5 555.3L1141.7 548.1M1152.7 563.3L1159.9 570.5M1152.7 570.5L1159.9 563.3M975.1 600.9L982.4 608.1M975.1 608.1L982.4 600.9M990.0 596.2L997.2 603.4M990.0 603.4L997.2 596.2" stroke="#107a10" stroke-width="1.8" fill="none"/>
<path d="M967.8 641.2 L969.0 635.0 L970.9 628.8" fill="none" stroke="#2222d8" stroke-width="4" stroke-linejoin="round" stroke-linecap="round"/>

<path d="M978.8 611.5L980.4 613.8L982.8 615.5L980.4 617.1L978.8 619.5L977.1 617.1L974.8 615.5L977.1 613.8Z" fill="#2222d8"/><path d="M987.3 599.0L989.0 601.3L991.3 603.0L989.0 604.6L987.3 607.0L985.7 604.6L983.3 603.0L985.7 601.3Z" fill="#2222d8"/>

</g>
<rect x="966.2" y="425.4" width="225.2" height="216.4" fill="none" stroke="#646464" stroke-width="2"/>
<g clip-path="url(#ma3)">
<path d="M141.2 1108.6 L141.5 1107.6 L141.9 1106.6 L142.5 1105.3 L143.1 1104.4 L143.9 1103.6 L144.7 1103.1 L145.5 1102.8 L146.3 1102.5 L147.1 1102.0 L147.8 1101.3 L148.3 1100.6" fill="none" stroke="#111" stroke-width="3.4" stroke-linejoin="round" stroke-linecap="round"/>
<path d="M164.7 1103.2 L165.0 1103.9 L165.3 1104.2 L165.7 1104.2 L166.1 1103.9" fill="none" stroke="#111" stroke-width="3.4" stroke-linejoin="round" stroke-linecap="round"/>


<g fill="#111"><circle cx="148.3" cy="1100.6" r="2.0"/><circle cx="148.8" cy="1099.9" r="2.0"/><circle cx="149.3" cy="1099.3" r="2.0"/><circle cx="149.9" cy="1098.6" r="2.0"/><circle cx="150.3" cy="1097.9" r="2.0"/><circle cx="150.9" cy="1097.2" r="2.0"/><circle cx="151.6" cy="1096.6" r="2.0"/><circle cx="152.4" cy="1096.0" r="2.0"/><circle cx="153.2" cy="1095.5" r="2.0"/><circle cx="155.1" cy="1095.3" r="2.0"/><circle cx="156.0" cy="1095.6" r="2.0"/><circle cx="156.9" cy="1095.9" r="2.0"/><circle cx="157.7" cy="1096.3" r="2.0"/><circle cx="158.4" cy="1096.7" r="2.0"/><circle cx="159.1" cy="1097.1" r="2.0"/><circle cx="159.8" cy="1097.6" r="2.0"/><circle cx="160.4" cy="1098.1" r="2.0"/><circle cx="160.8" cy="1098.6" r="2.0"/><circle cx="162.1" cy="1100.3" r="2.0"/><circle cx="162.7" cy="1101.0" r="2.0"/><circle cx="163.2" cy="1101.6" r="2.0"/><circle cx="163.7" cy="1102.0" r="2.0"/><circle cx="164.1" cy="1102.3" r="2.0"/><circle cx="164.4" cy="1102.7" r="2.0"/><circle cx="164.7" cy="1103.2" r="2.0"/><circle cx="166.1" cy="1103.9" r="2.0"/><circle cx="166.6" cy="1103.2" r="2.0"/><circle cx="167.0" cy="1102.5" r="2.0"/><circle cx="167.3" cy="1101.7" r="2.0"/><circle cx="167.6" cy="1100.8" r="2.0"/><circle cx="168.0" cy="1100.3" r="2.0"/><circle cx="168.5" cy="1099.8" r="2.0"/><circle cx="169.0" cy="1099.3" r="2.0"/><circle cx="169.5" cy="1098.8" r="2.0"/><circle cx="170.0" cy="1098.3" r="2.0"/><circle cx="141.7" cy="1106.8" r="2.0"/><circle cx="144.1" cy="1103.5" r="2.0"/><circle cx="147.8" cy="1101.3" r="2.0"/><circle cx="154.1" cy="1095.3" r="2.0"/><circle cx="161.6" cy="1099.8" r="2.0"/><circle cx="165.0" cy="1104.0" r="2.0"/><circle cx="170.7" cy="1097.9" r="2.0"/></g>
<path d="M141.2 1108.6 L141.5 1107.9 L141.9 1107.1 L142.5 1106.2 L143.1 1105.3 L143.8 1104.7 L144.4 1104.1 L144.9 1103.5 L145.1 1102.7 L145.2 1101.8" fill="none" stroke="#e01c22" stroke-width="3.2" stroke-linejoin="round" stroke-linecap="round"/>

<g fill="#cc2a34"><circle cx="146.9" cy="1085.8" r="1.95"/><circle cx="146.5" cy="1089.9" r="1.95"/><circle cx="146.2" cy="1093.2" r="1.95"/><circle cx="146.0" cy="1095.8" r="1.95"/><circle cx="145.8" cy="1098.0" r="1.95"/><circle cx="145.4" cy="1100.9" r="1.95"/><circle cx="145.2" cy="1101.8" r="1.95"/><circle cx="145.6" cy="1099.5" r="1.95"/><circle cx="185.3" cy="750.4" r="1.95"/><circle cx="177.3" cy="813.9" r="1.95"/><circle cx="170.7" cy="864.8" r="1.95"/><circle cx="165.9" cy="907.7" r="1.95"/><circle cx="161.8" cy="943.1" r="1.95"/><circle cx="158.6" cy="972.2" r="1.95"/><circle cx="155.7" cy="996.4" r="1.95"/><circle cx="153.5" cy="1017.0" r="1.95"/><circle cx="152.1" cy="1033.8" r="1.95"/><circle cx="150.1" cy="1047.4" r="1.95"/><circle cx="149.5" cy="1058.4" r="1.95"/><circle cx="148.4" cy="1067.7" r="1.95"/><circle cx="147.7" cy="1075.0" r="1.95"/><circle cx="147.2" cy="1081.1" r="1.95"/></g>
</g>
<rect x="216.1" y="787.2" width="225.2" height="216.4" fill="#fff"/>
<g clip-path="url(#ia3)">
<path d="M216.8 1002.7 L218.7 994.2 L221.2 984.5 L224.3 973.5 L227.9 965.0 L232.8 957.8 L237.7 953.4 L242.5 951.0 L247.4 948.1 L252.2 943.2 L256.3 937.6 L259.5 931.1" fill="none" stroke="#111" stroke-width="3.4" stroke-linejoin="round" stroke-linecap="round"/>
<path d="M357.8 954.1 L359.5 960.2 L361.4 963.3 L363.8 963.3 L366.3 960.2" fill="none" stroke="#111" stroke-width="3.4" stroke-linejoin="round" stroke-linecap="round"/>


<g fill="#111"><circle cx="259.5" cy="931.1" r="2.0"/><circle cx="262.4" cy="925.0" r="2.0"/><circle cx="265.6" cy="918.9" r="2.0"/><circle cx="268.7" cy="912.9" r="2.0"/><circle cx="271.6" cy="906.3" r="2.0"/><circle cx="275.3" cy="900.7" r="2.0"/><circle cx="278.9" cy="895.4" r="2.0"/><circle cx="283.8" cy="889.8" r="2.0"/><circle cx="288.6" cy="885.0" r="2.0"/><circle cx="300.3" cy="883.8" r="2.0"/><circle cx="305.6" cy="886.2" r="2.0"/><circle cx="310.9" cy="889.1" r="2.0"/><circle cx="315.8" cy="892.2" r="2.0"/><circle cx="320.2" cy="895.9" r="2.0"/><circle cx="324.3" cy="899.5" r="2.0"/><circle cx="328.2" cy="903.9" r="2.0"/><circle cx="331.8" cy="908.8" r="2.0"/><circle cx="334.7" cy="913.4" r="2.0"/><circle cx="342.0" cy="928.6" r="2.0"/><circle cx="345.6" cy="934.7" r="2.0"/><circle cx="348.8" cy="939.6" r="2.0"/><circle cx="351.7" cy="943.2" r="2.0"/><circle cx="354.1" cy="946.4" r="2.0"/><circle cx="356.1" cy="949.8" r="2.0"/><circle cx="357.8" cy="954.1" r="2.0"/><circle cx="366.3" cy="960.2" r="2.0"/><circle cx="369.2" cy="954.1" r="2.0"/><circle cx="371.6" cy="948.1" r="2.0"/><circle cx="373.5" cy="940.8" r="2.0"/><circle cx="375.5" cy="932.8" r="2.0"/><circle cx="377.9" cy="928.2" r="2.0"/><circle cx="380.8" cy="923.3" r="2.0"/><circle cx="383.7" cy="918.9" r="2.0"/><circle cx="386.9" cy="914.6" r="2.0"/><circle cx="389.8" cy="910.4" r="2.0"/><circle cx="219.5" cy="986.9" r="2.0"/><circle cx="234.0" cy="956.6" r="2.0"/><circle cx="256.3" cy="937.6" r="2.0"/><circle cx="294.2" cy="883.3" r="2.0"/><circle cx="339.1" cy="923.3" r="2.0"/><circle cx="359.5" cy="961.4" r="2.0"/><circle cx="393.7" cy="906.3" r="2.0"/></g>
<path d="M216.8 1002.7 L218.2 996.6 L220.7 989.3 L224.3 980.8 L227.9 973.5 L232.3 967.5 L235.7 961.9 L238.9 956.6 L240.1 950.0 L240.8 942.0" fill="none" stroke="#e01c22" stroke-width="3.2" stroke-linejoin="round" stroke-linecap="round"/>

<g fill="#cc2a34"><circle cx="251.0" cy="798.1" r="1.95"/><circle cx="248.8" cy="835.2" r="1.95"/><circle cx="246.9" cy="864.3" r="1.95"/><circle cx="245.7" cy="887.9" r="1.95"/><circle cx="244.4" cy="907.3" r="1.95"/><circle cx="241.8" cy="933.5" r="1.95"/><circle cx="240.8" cy="942.0" r="1.95"/><circle cx="243.2" cy="921.4" r="1.95"/></g>
<path d="M215.9 983.3L223.1 990.5M215.9 990.5L223.1 983.3M230.4 953.0L237.6 960.2M230.4 960.2L237.6 953.0M252.7 934.0L259.9 941.2M252.7 941.2L259.9 934.0M290.6 879.7L297.8 886.9M290.6 886.9L297.8 879.7M335.5 919.7L342.7 926.9M335.5 926.9L342.7 919.7M355.9 957.8L363.1 965.0M355.9 965.0L363.1 957.8M390.1 902.7L397.3 909.9M390.1 909.9L397.3 902.7" stroke="#107a10" stroke-width="1.8" fill="none"/>
<path d="M217.3 1002.2 L218.7 997.8 L220.2 994.2" fill="none" stroke="#2222d8" stroke-width="4" stroke-linejoin="round" stroke-linecap="round"/>

<path d="M223.1 983.4L224.8 985.7L227.1 987.4L224.8 989.1L223.1 991.4L221.4 989.1L219.1 987.4L221.4 985.7Z" fill="#2222d8"/><path d="M230.4 967.8L232.1 970.2L234.4 971.8L232.1 973.5L230.4 975.8L228.7 973.5L226.4 971.8L228.7 970.2Z" fill="#2222d8"/>
<path d="M243.2 917.1L245.0 919.6L247.5 921.4L245.0 923.2L243.2 925.7L241.4 923.2L238.9 921.4L241.4 919.6Z" fill="#2222d8"/>
</g>
<rect x="216.1" y="787.2" width="225.2" height="216.4" fill="none" stroke="#646464" stroke-width="2"/>
<g clip-path="url(#mb3)">
<path d="M516.5 1108.3 L516.6 1108.0 L516.8 1107.4 L516.9 1106.3 L517.0 1105.8" fill="none" stroke="#111" stroke-width="3.4" stroke-linejoin="round" stroke-linecap="round"/>
<path d="M532.8 1104.8 L532.9 1105.3 L533.1 1105.7 L533.3 1105.4 L533.4 1105.1 L533.6 1104.8" fill="none" stroke="#111" stroke-width="3.4" stroke-linejoin="round" stroke-linecap="round"/>

<path d="M521.6 1105.6 L521.7 1105.9 L521.9 1106.0 L522.1 1106.0 L522.4 1105.8 L522.6 1105.4 L522.7 1105.0" fill="none" stroke="#111" stroke-width="3.4" stroke-linejoin="round" stroke-linecap="round"/>
<g fill="#111"><circle cx="524.1" cy="1101.3" r="2.0"/><circle cx="524.5" cy="1100.5" r="2.0"/><circle cx="525.1" cy="1099.2" r="2.0"/><circle cx="525.8" cy="1098.4" r="2.0"/><circle cx="526.6" cy="1097.7" r="2.0"/><circle cx="527.5" cy="1097.3" r="2.0"/><circle cx="528.4" cy="1097.4" r="2.0"/><circle cx="529.3" cy="1097.8" r="2.0"/><circle cx="530.8" cy="1099.5" r="2.0"/><circle cx="531.4" cy="1100.5" r="2.0"/><circle cx="531.8" cy="1101.6" r="2.0"/><circle cx="532.2" cy="1102.5" r="2.0"/><circle cx="532.4" cy="1103.3" r="2.0"/><circle cx="532.6" cy="1104.1" r="2.0"/><circle cx="532.8" cy="1104.8" r="2.0"/><circle cx="533.6" cy="1104.8" r="2.0"/><circle cx="533.8" cy="1104.1" r="2.0"/><circle cx="534.1" cy="1103.3" r="2.0"/><circle cx="534.3" cy="1102.3" r="2.0"/><circle cx="517.1" cy="1105.6" r="2.0"/><circle cx="517.3" cy="1105.0" r="2.0"/><circle cx="517.5" cy="1104.5" r="2.0"/><circle cx="517.8" cy="1103.9" r="2.0"/><circle cx="518.2" cy="1103.4" r="2.0"/><circle cx="518.7" cy="1103.1" r="2.0"/><circle cx="519.2" cy="1102.9" r="2.0"/><circle cx="519.6" cy="1103.0" r="2.0"/><circle cx="520.4" cy="1103.7" r="2.0"/><circle cx="520.7" cy="1104.1" r="2.0"/><circle cx="521.0" cy="1104.5" r="2.0"/><circle cx="521.2" cy="1104.9" r="2.0"/><circle cx="521.4" cy="1105.3" r="2.0"/><circle cx="521.6" cy="1105.6" r="2.0"/><circle cx="522.8" cy="1105.0" r="2.0"/><circle cx="523.0" cy="1104.4" r="2.0"/><circle cx="523.2" cy="1103.8" r="2.0"/><circle cx="523.6" cy="1102.3" r="2.0"/><circle cx="530.1" cy="1098.5" r="2.0"/><circle cx="533.1" cy="1105.7" r="2.0"/><circle cx="534.6" cy="1101.1" r="2.0"/><circle cx="520.2" cy="1103.1" r="2.0"/><circle cx="522.2" cy="1106.1" r="2.0"/><circle cx="523.4" cy="1103.1" r="2.0"/></g>
<path d="M516.4 1108.3 L516.6 1107.9 L516.8 1106.9 L517.0 1106.1 L517.2 1105.5 L517.4 1104.8 L517.7 1104.3 L518.1 1103.8 L518.6 1103.5 L519.1 1103.5 L519.6 1103.6 L520.0 1103.9 L520.4 1104.5 L520.7 1105.0 L521.1 1105.6 L521.4 1105.9 L521.6 1106.0 L521.8 1105.9 L521.9 1105.4" fill="none" stroke="#e01c22" stroke-width="3.2" stroke-linejoin="round" stroke-linecap="round"/>

<g fill="#cc2a34"><circle cx="522.9" cy="1093.5" r="1.95"/><circle cx="522.6" cy="1096.2" r="1.95"/><circle cx="522.3" cy="1100.3" r="1.95"/><circle cx="521.9" cy="1104.6" r="1.95"/><circle cx="522.0" cy="1103.9" r="1.95"/><circle cx="522.1" cy="1102.9" r="1.95"/><circle cx="522.2" cy="1101.8" r="1.95"/><circle cx="522.5" cy="1098.4" r="1.95"/><circle cx="550.8" cy="786.0" r="1.95"/><circle cx="545.2" cy="844.2" r="1.95"/><circle cx="540.4" cy="892.7" r="1.95"/><circle cx="536.2" cy="932.2" r="1.95"/><circle cx="533.8" cy="965.9" r="1.95"/><circle cx="531.4" cy="991.3" r="1.95"/><circle cx="529.5" cy="1013.1" r="1.95"/><circle cx="528.0" cy="1031.3" r="1.95"/><circle cx="526.6" cy="1045.9" r="1.95"/><circle cx="525.8" cy="1057.5" r="1.95"/><circle cx="525.1" cy="1067.0" r="1.95"/><circle cx="524.3" cy="1075.0" r="1.95"/><circle cx="523.8" cy="1081.1" r="1.95"/><circle cx="523.5" cy="1086.9" r="1.95"/></g>
</g>
<rect x="591.0" y="787.2" width="225.2" height="216.4" fill="#fff"/>
<g clip-path="url(#ib3)">
<path d="M595.9 998.8 L596.7 994.9 L598.3 988.6 L599.8 974.6 L601.0 968.3" fill="none" stroke="#111" stroke-width="3.4" stroke-linejoin="round" stroke-linecap="round"/>
<path d="M752.3 956.6 L753.5 962.6 L755.2 967.5 L757.2 963.8 L758.4 960.2 L759.6 956.6" fill="none" stroke="#111" stroke-width="3.4" stroke-linejoin="round" stroke-linecap="round"/>

<path d="M644.6 966.8 L645.8 969.9 L647.4 971.6 L649.7 971.6 L652.1 968.3 L654.0 964.1 L655.6 959.8" fill="none" stroke="#111" stroke-width="3.4" stroke-linejoin="round" stroke-linecap="round"/>
<g fill="#111"><circle cx="668.6" cy="914.6" r="2.0"/><circle cx="672.5" cy="905.1" r="2.0"/><circle cx="678.3" cy="890.3" r="2.0"/><circle cx="684.9" cy="880.8" r="2.0"/><circle cx="692.9" cy="872.1" r="2.0"/><circle cx="701.4" cy="866.8" r="2.0"/><circle cx="709.9" cy="868.2" r="2.0"/><circle cx="718.8" cy="872.8" r="2.0"/><circle cx="733.4" cy="893.5" r="2.0"/><circle cx="738.5" cy="906.1" r="2.0"/><circle cx="742.6" cy="918.9" r="2.0"/><circle cx="746.3" cy="929.9" r="2.0"/><circle cx="748.7" cy="939.6" r="2.0"/><circle cx="750.6" cy="948.1" r="2.0"/><circle cx="752.3" cy="956.6" r="2.0"/><circle cx="759.6" cy="956.6" r="2.0"/><circle cx="762.0" cy="948.1" r="2.0"/><circle cx="764.5" cy="939.6" r="2.0"/><circle cx="766.9" cy="927.4" r="2.0"/><circle cx="601.4" cy="966.8" r="2.0"/><circle cx="603.3" cy="959.8" r="2.0"/><circle cx="605.7" cy="953.5" r="2.0"/><circle cx="608.4" cy="946.5" r="2.0"/><circle cx="612.3" cy="940.3" r="2.0"/><circle cx="617.0" cy="936.4" r="2.0"/><circle cx="621.3" cy="934.8" r="2.0"/><circle cx="625.5" cy="936.0" r="2.0"/><circle cx="633.3" cy="943.4" r="2.0"/><circle cx="636.1" cy="948.5" r="2.0"/><circle cx="638.8" cy="953.9" r="2.0"/><circle cx="640.8" cy="958.2" r="2.0"/><circle cx="642.7" cy="962.9" r="2.0"/><circle cx="644.6" cy="966.8" r="2.0"/><circle cx="656.0" cy="959.0" r="2.0"/><circle cx="658.3" cy="952.0" r="2.0"/><circle cx="659.9" cy="945.3" r="2.0"/><circle cx="663.8" cy="927.0" r="2.0"/><circle cx="726.4" cy="881.8" r="2.0"/><circle cx="755.2" cy="967.5" r="2.0"/><circle cx="769.3" cy="912.9" r="2.0"/><circle cx="631.0" cy="937.2" r="2.0"/><circle cx="650.5" cy="972.2" r="2.0"/><circle cx="661.8" cy="936.8" r="2.0"/></g>
<path d="M595.1 998.8 L596.7 994.1 L599.0 982.4 L601.0 973.0 L602.5 965.2 L604.5 957.4 L607.6 950.4 L611.5 945.0 L616.2 941.7 L620.9 940.9 L625.5 942.6 L629.4 946.5 L633.3 953.5 L636.5 959.8 L639.6 966.0 L642.7 969.9 L645.0 971.6 L646.6 969.9 L647.4 963.7" fill="none" stroke="#e01c22" stroke-width="3.2" stroke-linejoin="round" stroke-linecap="round"/>

<g fill="#cc2a34"><circle cx="657.2" cy="822.4" r="1.95"/><circle cx="654.8" cy="853.9" r="1.95"/><circle cx="651.6" cy="902.7" r="1.95"/><circle cx="647.8" cy="954.3" r="1.95"/><circle cx="648.8" cy="945.7" r="1.95"/><circle cx="649.7" cy="934.4" r="1.95"/><circle cx="650.9" cy="920.8" r="1.95"/><circle cx="653.3" cy="880.6" r="1.95"/></g>
<path d="M722.8 878.2L730.0 885.4M722.8 885.4L730.0 878.2M751.6 963.9L758.8 971.1M751.6 971.1L758.8 963.9M765.7 909.3L772.9 916.5M765.7 916.5L772.9 909.3M627.4 933.6L634.6 940.8M627.4 940.8L634.6 933.6M646.9 968.6L654.1 975.8M646.9 975.8L654.1 968.6M658.2 933.2L665.4 940.4M658.2 940.4L665.4 933.2" stroke="#107a10" stroke-width="1.8" fill="none"/>


<path d="M599.0 973.7L600.7 976.0L603.0 977.7L600.7 979.4L599.0 981.7L597.4 979.4L595.0 977.7L597.4 976.0Z" fill="#2222d8"/><path d="M627.1 941.0L628.8 943.3L631.1 945.0L628.8 946.6L627.1 949.0L625.4 946.6L623.1 945.0L625.4 943.3Z" fill="#2222d8"/><path d="M645.0 967.5L646.7 969.8L649.0 971.5L646.7 973.1L645.0 975.5L643.4 973.1L641.0 971.5L643.4 969.8Z" fill="#2222d8"/><path d="M595.9 993.2L597.6 995.5L599.9 997.2L597.6 998.9L595.9 1001.2L594.2 998.9L591.9 997.2L594.2 995.5Z" fill="#2222d8"/>
<path d="M653.3 876.3L655.1 878.8L657.6 880.6L655.1 882.4L653.3 884.9L651.5 882.4L649.0 880.6L651.5 878.8Z" fill="#2222d8"/>
</g>
<rect x="591.0" y="787.2" width="225.2" height="216.4" fill="none" stroke="#646464" stroke-width="2"/>
<g clip-path="url(#mc3)">
<path d="M891.8 1108.1 L892.2 1107.5 L892.6 1106.1 L893.1 1104.6 L893.6 1103.2 L894.1 1101.7 L894.8 1100.4 L895.8 1099.4 L897.4 1098.6 L898.7 1098.5 L900.1 1098.6 L901.2 1098.5 L902.3 1098.1 L903.3 1097.5 L904.0 1097.0" fill="none" stroke="#111" stroke-width="3.4" stroke-linejoin="round" stroke-linecap="round"/>
<path d="M936.0 1097.4 L936.6 1098.6 L937.2 1099.6 L937.9 1098.8" fill="none" stroke="#111" stroke-width="3.4" stroke-linejoin="round" stroke-linecap="round"/>


<g fill="#111"><circle cx="906.6" cy="1092.5" r="2.0"/><circle cx="907.5" cy="1091.3" r="2.0"/><circle cx="908.5" cy="1090.1" r="2.0"/><circle cx="909.4" cy="1088.7" r="2.0"/><circle cx="910.4" cy="1087.2" r="2.0"/><circle cx="911.3" cy="1085.8" r="2.0"/><circle cx="913.1" cy="1083.4" r="2.0"/><circle cx="914.2" cy="1082.4" r="2.0"/><circle cx="915.7" cy="1081.4" r="2.0"/><circle cx="917.5" cy="1080.8" r="2.0"/><circle cx="919.7" cy="1080.7" r="2.0"/><circle cx="921.7" cy="1080.7" r="2.0"/><circle cx="923.7" cy="1081.4" r="2.0"/><circle cx="925.6" cy="1082.6" r="2.0"/><circle cx="927.5" cy="1083.9" r="2.0"/><circle cx="929.0" cy="1085.7" r="2.0"/><circle cx="931.6" cy="1089.7" r="2.0"/><circle cx="932.6" cy="1091.4" r="2.0"/><circle cx="933.5" cy="1092.7" r="2.0"/><circle cx="934.3" cy="1093.9" r="2.0"/><circle cx="934.9" cy="1095.2" r="2.0"/><circle cx="935.4" cy="1096.4" r="2.0"/><circle cx="936.0" cy="1097.4" r="2.0"/><circle cx="937.9" cy="1098.8" r="2.0"/><circle cx="938.7" cy="1097.6" r="2.0"/><circle cx="939.2" cy="1096.4" r="2.0"/><circle cx="939.8" cy="1095.2" r="2.0"/><circle cx="940.4" cy="1093.9" r="2.0"/><circle cx="940.7" cy="1092.3" r="2.0"/><circle cx="904.6" cy="1096.1" r="2.0"/><circle cx="905.2" cy="1095.2" r="2.0"/><circle cx="905.8" cy="1094.0" r="2.0"/><circle cx="912.5" cy="1084.0" r="2.0"/><circle cx="930.3" cy="1087.8" r="2.0"/><circle cx="937.2" cy="1099.6" r="2.0"/><circle cx="941.5" cy="1089.8" r="2.0"/><circle cx="897.4" cy="1098.6" r="2.0"/><circle cx="903.3" cy="1097.5" r="2.0"/></g>
<path d="M892.0 1108.1 L892.5 1107.5 L892.9 1105.8 L893.3 1104.4 L893.9 1103.0 L894.7 1101.3 L895.8 1100.2 L897.1 1099.8 L898.2 1099.7 L899.6 1099.9 L900.6 1099.6 L901.4 1098.8 L901.8 1097.8 L901.9 1097.4" fill="none" stroke="#e01c22" stroke-width="3.2" stroke-linejoin="round" stroke-linecap="round"/>

<g fill="#cc2a34"><circle cx="904.6" cy="1075.2" r="1.95"/><circle cx="904.0" cy="1080.9" r="1.95"/><circle cx="903.4" cy="1085.5" r="1.95"/><circle cx="903.1" cy="1089.2" r="1.95"/><circle cx="902.7" cy="1092.0" r="1.95"/><circle cx="902.4" cy="1094.4" r="1.95"/><circle cx="902.1" cy="1096.0" r="1.95"/><circle cx="938.4" cy="758.1" r="1.95"/><circle cx="930.6" cy="818.7" r="1.95"/><circle cx="925.1" cy="870.8" r="1.95"/><circle cx="921.4" cy="913.3" r="1.95"/><circle cx="917.3" cy="947.7" r="1.95"/><circle cx="914.4" cy="976.8" r="1.95"/><circle cx="912.0" cy="1000.8" r="1.95"/><circle cx="910.0" cy="1020.2" r="1.95"/><circle cx="908.6" cy="1036.1" r="1.95"/><circle cx="907.2" cy="1049.0" r="1.95"/><circle cx="906.2" cy="1059.7" r="1.95"/><circle cx="905.3" cy="1068.4" r="1.95"/></g>
</g>
<rect x="966.2" y="787.2" width="225.2" height="216.4" fill="#fff"/>
<g clip-path="url(#ic3)">
<path d="M968.2 1000.1 L969.5 996.7 L970.8 988.0 L972.1 979.3 L973.9 970.7 L975.6 962.0 L977.8 954.2 L980.8 948.1 L986.0 943.4 L990.3 942.8 L994.7 943.4 L998.1 942.5 L1001.6 939.9 L1005.1 936.9 L1007.2 933.4" fill="none" stroke="#111" stroke-width="3.4" stroke-linejoin="round" stroke-linecap="round"/>
<path d="M1109.5 935.9 L1111.4 943.2 L1113.3 949.3 L1115.8 944.4" fill="none" stroke="#111" stroke-width="3.4" stroke-linejoin="round" stroke-linecap="round"/>


<g fill="#111"><circle cx="1015.6" cy="906.8" r="2.0"/><circle cx="1018.5" cy="899.5" r="2.0"/><circle cx="1021.6" cy="892.2" r="2.0"/><circle cx="1024.5" cy="883.8" r="2.0"/><circle cx="1027.7" cy="875.3" r="2.0"/><circle cx="1030.6" cy="866.8" r="2.0"/><circle cx="1036.2" cy="852.2" r="2.0"/><circle cx="1039.8" cy="846.1" r="2.0"/><circle cx="1044.7" cy="840.1" r="2.0"/><circle cx="1050.3" cy="836.4" r="2.0"/><circle cx="1057.3" cy="836.2" r="2.0"/><circle cx="1063.8" cy="836.2" r="2.0"/><circle cx="1070.2" cy="840.6" r="2.0"/><circle cx="1076.2" cy="847.4" r="2.0"/><circle cx="1082.3" cy="855.1" r="2.0"/><circle cx="1087.1" cy="866.0" r="2.0"/><circle cx="1095.6" cy="889.8" r="2.0"/><circle cx="1098.8" cy="900.3" r="2.0"/><circle cx="1101.7" cy="908.0" r="2.0"/><circle cx="1104.1" cy="915.3" r="2.0"/><circle cx="1106.1" cy="922.6" r="2.0"/><circle cx="1107.8" cy="929.9" r="2.0"/><circle cx="1109.5" cy="935.9" r="2.0"/><circle cx="1115.8" cy="944.4" r="2.0"/><circle cx="1118.2" cy="937.1" r="2.0"/><circle cx="1119.9" cy="929.9" r="2.0"/><circle cx="1121.8" cy="922.6" r="2.0"/><circle cx="1123.5" cy="915.3" r="2.0"/><circle cx="1124.8" cy="905.6" r="2.0"/><circle cx="1009.0" cy="928.2" r="2.0"/><circle cx="1011.1" cy="922.6" r="2.0"/><circle cx="1012.9" cy="915.6" r="2.0"/><circle cx="1034.2" cy="855.9" r="2.0"/><circle cx="1091.5" cy="878.4" r="2.0"/><circle cx="1113.3" cy="949.3" r="2.0"/><circle cx="1127.2" cy="890.3" r="2.0"/><circle cx="986.0" cy="942.9" r="2.0"/><circle cx="1005.1" cy="936.9" r="2.0"/></g>
<path d="M968.7 1000.1 L970.4 996.7 L971.7 986.3 L973.0 977.6 L974.7 969.8 L977.3 959.4 L980.8 952.5 L985.1 950.3 L988.6 950.0 L992.9 951.2 L996.4 949.4 L999.0 944.7 L1000.0 938.6 L1000.3 936.0" fill="none" stroke="#e01c22" stroke-width="3.2" stroke-linejoin="round" stroke-linecap="round"/>

<g fill="#cc2a34"><circle cx="1009.0" cy="803.0" r="1.95"/><circle cx="1007.1" cy="837.2" r="1.95"/><circle cx="1005.4" cy="864.8" r="1.95"/><circle cx="1004.2" cy="886.9" r="1.95"/><circle cx="1002.9" cy="903.9" r="1.95"/><circle cx="1002.0" cy="917.8" r="1.95"/><circle cx="1001.2" cy="927.8" r="1.95"/></g>
<path d="M1030.6 852.3L1037.8 859.5M1030.6 859.5L1037.8 852.3M1087.9 874.8L1095.1 882.0M1087.9 882.0L1095.1 874.8M1109.7 945.7L1116.9 952.9M1109.7 952.9L1116.9 945.7M1123.6 886.7L1130.8 893.9M1123.6 893.9L1130.8 886.7M982.4 939.3L989.6 946.5M982.4 946.5L989.6 939.3M1001.5 933.3L1008.7 940.5M1001.5 940.5L1008.7 933.3" stroke="#107a10" stroke-width="1.8" fill="none"/>


<path d="M972.6 973.6L974.2 975.9L976.6 977.6L974.2 979.3L972.6 981.6L970.9 979.3L968.6 977.6L970.9 975.9Z" fill="#2222d8"/><path d="M969.7 992.7L971.4 995.0L973.7 996.7L971.4 998.4L969.7 1000.7L968.0 998.4L965.7 996.7L968.0 995.0Z" fill="#2222d8"/><path d="M987.7 945.9L989.4 948.2L991.7 949.9L989.4 951.5L987.7 953.9L986.1 951.5L983.7 949.9L986.1 948.2Z" fill="#2222d8"/>
<path d="M1001.2 923.5L1003.0 926.0L1005.5 927.8L1003.0 929.6L1001.2 932.1L999.4 929.6L996.9 927.8L999.4 926.0Z" fill="#2222d8"/>
</g>
<rect x="966.2" y="787.2" width="225.2" height="216.4" fill="none" stroke="#646464" stroke-width="2"/>
<path d="M141.1 385.4v-4.5M141.1 23.9v4.5M188.0 385.4v-2.5M188.0 23.9v2.5M234.8 385.4v-4.5M234.8 23.9v4.5M281.7 385.4v-2.5M281.7 23.9v2.5M328.5 385.4v-4.5M328.5 23.9v4.5M375.4 385.4v-2.5M375.4 23.9v2.5M422.3 385.4v-4.5M422.3 23.9v4.5M469.1 385.4v-2.5M469.1 23.9v2.5M516.0 385.4v-4.5M516.0 23.9v4.5M141.1 385.4h4.5M516.0 385.4h-4.5M141.1 325.1h2.5M516.0 325.1h-2.5M141.1 264.9h4.5M516.0 264.9h-4.5M141.1 204.6h2.5M516.0 204.6h-2.5M141.1 144.4h4.5M516.0 144.4h-4.5M141.1 84.1h2.5M516.0 84.1h-2.5M141.1 23.9h4.5M516.0 23.9h-4.5" stroke="#666" stroke-width="1.1" fill="none"/>
<path d="M141.1 746.9v-4.5M141.1 385.4v4.5M188.0 746.9v-2.5M188.0 385.4v2.5M234.8 746.9v-4.5M234.8 385.4v4.5M281.7 746.9v-2.5M281.7 385.4v2.5M328.5 746.9v-4.5M328.5 385.4v4.5M375.4 746.9v-2.5M375.4 385.4v2.5M422.3 746.9v-4.5M422.3 385.4v4.5M469.1 746.9v-2.5M469.1 385.4v2.5M516.0 746.9v-4.5M516.0 385.4v4.5M141.1 746.9h4.5M516.0 746.9h-4.5M141.1 686.6h2.5M516.0 686.6h-2.5M141.1 626.4h4.5M516.0 626.4h-4.5M141.1 566.1h2.5M516.0 566.1h-2.5M141.1 505.9h4.5M516.0 505.9h-4.5M141.1 445.6h2.5M516.0 445.6h-2.5M141.1 385.4h4.5M516.0 385.4h-4.5" stroke="#666" stroke-width="1.1" fill="none"/>
<path d="M141.1 1108.7v-4.5M141.1 746.9v4.5M188.0 1108.7v-2.5M188.0 746.9v2.5M234.8 1108.7v-4.5M234.8 746.9v4.5M281.7 1108.7v-2.5M281.7 746.9v2.5M328.5 1108.7v-4.5M328.5 746.9v4.5M375.4 1108.7v-2.5M375.4 746.9v2.5M422.3 1108.7v-4.5M422.3 746.9v4.5M469.1 1108.7v-2.5M469.1 746.9v2.5M516.0 1108.7v-4.5M516.0 746.9v4.5M141.1 1108.7h4.5M516.0 1108.7h-4.5M141.1 1048.4h2.5M516.0 1048.4h-2.5M141.1 988.1h4.5M516.0 988.1h-4.5M141.1 927.8h2.5M516.0 927.8h-2.5M141.1 867.5h4.5M516.0 867.5h-4.5M141.1 807.2h2.5M516.0 807.2h-2.5M141.1 746.9h4.5M516.0 746.9h-4.5" stroke="#666" stroke-width="1.1" fill="none"/>
<path d="M516.0 385.4v-4.5M516.0 23.9v4.5M562.9 385.4v-2.5M562.9 23.9v2.5M609.8 385.4v-4.5M609.8 23.9v4.5M656.7 385.4v-2.5M656.7 23.9v2.5M703.6 385.4v-4.5M703.6 23.9v4.5M750.5 385.4v-2.5M750.5 23.9v2.5M797.4 385.4v-4.5M797.4 23.9v4.5M844.3 385.4v-2.5M844.3 23.9v2.5M891.2 385.4v-4.5M891.2 23.9v4.5M516.0 385.4h4.5M891.2 385.4h-4.5M516.0 325.1h2.5M891.2 325.1h-2.5M516.0 264.9h4.5M891.2 264.9h-4.5M516.0 204.6h2.5M891.2 204.6h-2.5M516.0 144.4h4.5M891.2 144.4h-4.5M516.0 84.1h2.5M891.2 84.1h-2.5M516.0 23.9h4.5M891.2 23.9h-4.5" stroke="#666" stroke-width="1.1" fill="none"/>
<path d="M516.0 746.9v-4.5M516.0 385.4v4.5M562.9 746.9v-2.5M562.9 385.4v2.5M609.8 746.9v-4.5M609.8 385.4v4.5M656.7 746.9v-2.5M656.7 385.4v2.5M703.6 746.9v-4.5M703.6 385.4v4.5M750.5 746.9v-2.5M750.5 385.4v2.5M797.4 746.9v-4.5M797.4 385.4v4.5M844.3 746.9v-2.5M844.3 385.4v2.5M891.2 746.9v-4.5M891.2 385.4v4.5M516.0 746.9h4.5M891.2 746.9h-4.5M516.0 686.6h2.5M891.2 686.6h-2.5M516.0 626.4h4.5M891.2 626.4h-4.5M516.0 566.1h2.5M891.2 566.1h-2.5M516.0 505.9h4.5M891.2 505.9h-4.5M516.0 445.6h2.5M891.2 445.6h-2.5M516.0 385.4h4.5M891.2 385.4h-4.5" stroke="#666" stroke-width="1.1" fill="none"/>
<path d="M516.0 1108.7v-4.5M516.0 746.9v4.5M562.9 1108.7v-2.5M562.9 746.9v2.5M609.8 1108.7v-4.5M609.8 746.9v4.5M656.7 1108.7v-2.5M656.7 746.9v2.5M703.6 1108.7v-4.5M703.6 746.9v4.5M750.5 1108.7v-2.5M750.5 746.9v2.5M797.4 1108.7v-4.5M797.4 746.9v4.5M844.3 1108.7v-2.5M844.3 746.9v2.5M891.2 1108.7v-4.5M891.2 746.9v4.5M516.0 1108.7h4.5M891.2 1108.7h-4.5M516.0 1048.4h2.5M891.2 1048.4h-2.5M516.0 988.1h4.5M891.2 988.1h-4.5M516.0 927.8h2.5M891.2 927.8h-2.5M516.0 867.5h4.5M891.2 867.5h-4.5M516.0 807.2h2.5M891.2 807.2h-2.5M516.0 746.9h4.5M891.2 746.9h-4.5" stroke="#666" stroke-width="1.1" fill="none"/>
<path d="M891.2 385.4v-4.5M891.2 23.9v4.5M938.1 385.4v-2.5M938.1 23.9v2.5M985.0 385.4v-4.5M985.0 23.9v4.5M1031.9 385.4v-2.5M1031.9 23.9v2.5M1078.8 385.4v-4.5M1078.8 23.9v4.5M1125.7 385.4v-2.5M1125.7 23.9v2.5M1172.6 385.4v-4.5M1172.6 23.9v4.5M1219.5 385.4v-2.5M1219.5 23.9v2.5M1266.4 385.4v-4.5M1266.4 23.9v4.5M891.2 385.4h4.5M1266.4 385.4h-4.5M891.2 325.1h2.5M1266.4 325.1h-2.5M891.2 264.9h4.5M1266.4 264.9h-4.5M891.2 204.6h2.5M1266.4 204.6h-2.5M891.2 144.4h4.5M1266.4 144.4h-4.5M891.2 84.1h2.5M1266.4 84.1h-2.5M891.2 23.9h4.5M1266.4 23.9h-4.5" stroke="#666" stroke-width="1.1" fill="none"/>
<path d="M891.2 746.9v-4.5M891.2 385.4v4.5M938.1 746.9v-2.5M938.1 385.4v2.5M985.0 746.9v-4.5M985.0 385.4v4.5M1031.9 746.9v-2.5M1031.9 385.4v2.5M1078.8 746.9v-4.5M1078.8 385.4v4.5M1125.7 746.9v-2.5M1125.7 385.4v2.5M1172.6 746.9v-4.5M1172.6 385.4v4.5M1219.5 746.9v-2.5M1219.5 385.4v2.5M1266.4 746.9v-4.5M1266.4 385.4v4.5M891.2 746.9h4.5M1266.4 746.9h-4.5M891.2 686.6h2.5M1266.4 686.6h-2.5M891.2 626.4h4.5M1266.4 626.4h-4.5M891.2 566.1h2.5M1266.4 566.1h-2.5M891.2 505.9h4.5M1266.4 505.9h-4.5M891.2 445.6h2.5M1266.4 445.6h-2.5M891.2 385.4h4.5M1266.4 385.4h-4.5" stroke="#666" stroke-width="1.1" fill="none"/>
<path d="M891.2 1108.7v-4.5M891.2 746.9v4.5M938.1 1108.7v-2.5M938.1 746.9v2.5M985.0 1108.7v-4.5M985.0 746.9v4.5M1031.9 1108.7v-2.5M1031.9 746.9v2.5M1078.8 1108.7v-4.5M1078.8 746.9v4.5M1125.7 1108.7v-2.5M1125.7 746.9v2.5M1172.6 1108.7v-4.5M1172.6 746.9v4.5M1219.5 1108.7v-2.5M1219.5 746.9v2.5M1266.4 1108.7v-4.5M1266.4 746.9v4.5M891.2 1108.7h4.5M1266.4 1108.7h-4.5M891.2 1048.4h2.5M1266.4 1048.4h-2.5M891.2 988.1h4.5M1266.4 988.1h-4.5M891.2 927.8h2.5M1266.4 927.8h-2.5M891.2 867.5h4.5M1266.4 867.5h-4.5M891.2 807.2h2.5M1266.4 807.2h-2.5M891.2 746.9h4.5M1266.4 746.9h-4.5" stroke="#666" stroke-width="1.1" fill="none"/>
<path d="M216.1 280.3v-3.5M216.1 63.9v3.5M291.2 280.3v-3.5M291.2 63.9v3.5M366.2 280.3v-3.5M366.2 63.9v3.5M441.3 280.3v-3.5M441.3 63.9v3.5M216.1 280.3h3.5M441.3 280.3h-3.5M216.1 226.2h3.5M441.3 226.2h-3.5M216.1 172.1h3.5M441.3 172.1h-3.5M216.1 118.0h3.5M441.3 118.0h-3.5M216.1 63.9h3.5M441.3 63.9h-3.5" stroke="#666" stroke-width="1.0" fill="none"/>
<path d="M591.0 280.3v-3.5M591.0 63.9v3.5M642.2 280.3v-3.5M642.2 63.9v3.5M693.4 280.3v-3.5M693.4 63.9v3.5M744.5 280.3v-3.5M744.5 63.9v3.5M795.7 280.3v-3.5M795.7 63.9v3.5M591.0 280.3h3.5M816.2 280.3h-3.5M591.0 172.1h3.5M816.2 172.1h-3.5M591.0 63.9h3.5M816.2 63.9h-3.5" stroke="#666" stroke-width="1.0" fill="none"/>
<path d="M966.2 280.3v-3.5M966.2 63.9v3.5M1022.5 280.3v-3.5M1022.5 63.9v3.5M1078.8 280.3v-3.5M1078.8 63.9v3.5M1135.1 280.3v-3.5M1135.1 63.9v3.5M1191.4 280.3v-3.5M1191.4 63.9v3.5M966.2 280.3h3.5M1191.4 280.3h-3.5M966.2 193.7h3.5M1191.4 193.7h-3.5M966.2 107.2h3.5M1191.4 107.2h-3.5" stroke="#666" stroke-width="1.0" fill="none"/>
<path d="M216.1 641.8v-3.5M216.1 425.4v3.5M280.4 641.8v-3.5M280.4 425.4v3.5M344.8 641.8v-3.5M344.8 425.4v3.5M409.1 641.8v-3.5M409.1 425.4v3.5M216.1 641.8h3.5M441.3 641.8h-3.5M216.1 580.0h3.5M441.3 580.0h-3.5M216.1 518.1h3.5M441.3 518.1h-3.5M216.1 456.3h3.5M441.3 456.3h-3.5" stroke="#666" stroke-width="1.0" fill="none"/>
<path d="M591.0 641.8v-3.5M591.0 425.4v3.5M636.0 641.8v-3.5M636.0 425.4v3.5M681.1 641.8v-3.5M681.1 425.4v3.5M726.1 641.8v-3.5M726.1 425.4v3.5M771.2 641.8v-3.5M771.2 425.4v3.5M816.2 641.8v-3.5M816.2 425.4v3.5M591.0 641.8h3.5M816.2 641.8h-3.5M591.0 587.7h3.5M816.2 587.7h-3.5M591.0 533.6h3.5M816.2 533.6h-3.5M591.0 479.5h3.5M816.2 479.5h-3.5M591.0 425.4h3.5M816.2 425.4h-3.5" stroke="#666" stroke-width="1.0" fill="none"/>
<path d="M966.2 641.8v-3.5M966.2 425.4v3.5M1041.3 641.8v-3.5M1041.3 425.4v3.5M1116.3 641.8v-3.5M1116.3 425.4v3.5M1191.4 641.8v-3.5M1191.4 425.4v3.5M966.2 641.8h3.5M1191.4 641.8h-3.5M966.2 580.0h3.5M1191.4 580.0h-3.5M966.2 518.1h3.5M1191.4 518.1h-3.5M966.2 456.3h3.5M1191.4 456.3h-3.5" stroke="#666" stroke-width="1.0" fill="none"/>
<path d="M216.1 1003.6v-3.5M216.1 787.2v3.5M272.4 1003.6v-3.5M272.4 787.2v3.5M328.7 1003.6v-3.5M328.7 787.2v3.5M385.0 1003.6v-3.5M385.0 787.2v3.5M441.3 1003.6v-3.5M441.3 787.2v3.5M216.1 1003.6h3.5M441.3 1003.6h-3.5M216.1 949.5h3.5M441.3 949.5h-3.5M216.1 895.4h3.5M441.3 895.4h-3.5M216.1 841.3h3.5M441.3 841.3h-3.5M216.1 787.2h3.5M441.3 787.2h-3.5" stroke="#666" stroke-width="1.0" fill="none"/>
<path d="M591.0 1003.6v-3.5M591.0 787.2v3.5M636.0 1003.6v-3.5M636.0 787.2v3.5M681.1 1003.6v-3.5M681.1 787.2v3.5M726.1 1003.6v-3.5M726.1 787.2v3.5M771.2 1003.6v-3.5M771.2 787.2v3.5M816.2 1003.6v-3.5M816.2 787.2v3.5M591.0 1003.6h3.5M816.2 1003.6h-3.5M591.0 931.5h3.5M816.2 931.5h-3.5M591.0 859.3h3.5M816.2 859.3h-3.5M591.0 787.2h3.5M816.2 787.2h-3.5" stroke="#666" stroke-width="1.0" fill="none"/>
<path d="M966.2 1003.6v-3.5M966.2 787.2v3.5M1041.3 1003.6v-3.5M1041.3 787.2v3.5M1116.3 1003.6v-3.5M1116.3 787.2v3.5M1191.4 1003.6v-3.5M1191.4 787.2v3.5M966.2 1003.6h3.5M1191.4 1003.6h-3.5M966.2 931.5h3.5M1191.4 931.5h-3.5M966.2 859.3h3.5M1191.4 859.3h-3.5M966.2 787.2h3.5M1191.4 787.2h-3.5" stroke="#666" stroke-width="1.0" fill="none"/>
<path d="M140.0 23.9H1267.5M140.0 385.4H1267.5M140.0 746.9H1267.5M140.0 1108.7H1267.5M141.1 22.8V1109.8M516.0 22.8V1109.8M891.2 22.8V1109.8M1266.4 22.8V1109.8" fill="none" stroke="#646464" stroke-width="2.2"/>
<text x="231.98" y="17.40" style='font-family:"Liberation Sans", sans-serif' font-size="22" font-weight="bold" fill="#000" textLength="113.45" lengthAdjust="spacingAndGlyphs" stroke="#000" stroke-width="0.45">Negative</text>
<text x="355.09" y="17.40" style='font-family:"Liberation Sans", sans-serif' font-size="22" font-weight="bold" fill="#000" textLength="69.35" lengthAdjust="spacingAndGlyphs" stroke="#000" stroke-width="0.45">(-/-)/2</text>
<text x="603.53" y="17.40" style='font-family:"Liberation Sans", sans-serif' font-size="22" font-weight="bold" fill="#000" textLength="101.68" lengthAdjust="spacingAndGlyphs" stroke="#000" stroke-width="0.45">Positive</text>
<text x="714.09" y="17.40" style='font-family:"Liberation Sans", sans-serif' font-size="22" font-weight="bold" fill="#000" textLength="89.22" lengthAdjust="spacingAndGlyphs" stroke="#000" stroke-width="0.45">(+/+)/2</text>
<text x="1023.37" y="17.40" style='font-family:"Liberation Sans", sans-serif' font-size="22" font-weight="bold" fill="#000" textLength="46.07" lengthAdjust="spacingAndGlyphs" stroke="#000" stroke-width="0.45">Full</text>
<text x="1078.52" y="17.40" style='font-family:"Liberation Sans", sans-serif' font-size="22" font-weight="bold" fill="#000" textLength="55.47" lengthAdjust="spacingAndGlyphs" stroke="#000" stroke-width="0.45">(+/-)</text>
<text x="0.47" y="211.40" style='font-family:"Liberation Sans", sans-serif' font-size="23" font-weight="bold" fill="#1414d8" textLength="67.65" lengthAdjust="spacingAndGlyphs" stroke="#1414d8" stroke-width="0.5">-10°C</text>
<text x="24.78" y="573.30" style='font-family:"Liberation Sans", sans-serif' font-size="23" font-weight="bold" fill="#1414d8" textLength="43.33" lengthAdjust="spacingAndGlyphs" stroke="#1414d8" stroke-width="0.5">0°C</text>
<text x="9.96" y="935.20" style='font-family:"Liberation Sans", sans-serif' font-size="23" font-weight="bold" fill="#1414d8" textLength="58.15" lengthAdjust="spacingAndGlyphs" stroke="#1414d8" stroke-width="0.5">10°C</text>
<text x="260.09" y="1150.00" style='font-family:"Liberation Sans", sans-serif' font-size="20.5" font-weight="bold" fill="#000" textLength="59.73" lengthAdjust="spacingAndGlyphs" stroke="#000" stroke-width="0.4">Re(Z)</text><text x="328.59" y="1150.00" style='font-family:"Liberation Sans", sans-serif' font-size="20.5" font-weight="bold" fill="#000" textLength="7.08" lengthAdjust="spacingAndGlyphs" stroke="#000" stroke-width="0.4">(</text><text x="336.34" y="1150.00" style='font-family:"Liberation Serif", serif' font-size="20.5" fill="#222" textLength="13.13" lengthAdjust="spacingAndGlyphs" stroke="#222" stroke-width="0.25">Ω</text><text x="349.42" y="1150.00" style='font-family:"Liberation Serif", serif' font-size="20.5" font-style="italic" fill="#222" textLength="27.62" lengthAdjust="spacingAndGlyphs" stroke="#222" stroke-width="0.25">cm</text><text x="378.11" y="1141.00" style='font-family:"Liberation Serif", serif' font-size="10" fill="#222" textLength="7.23" lengthAdjust="spacingAndGlyphs">2</text><text x="390.03" y="1150.00" style='font-family:"Liberation Sans", sans-serif' font-size="20.5" font-weight="bold" fill="#000" textLength="6.25" lengthAdjust="spacingAndGlyphs" stroke="#000" stroke-width="0.4">)</text>
<text x="635.14" y="1150.00" style='font-family:"Liberation Sans", sans-serif' font-size="20.5" font-weight="bold" fill="#000" textLength="59.73" lengthAdjust="spacingAndGlyphs" stroke="#000" stroke-width="0.4">Re(Z)</text><text x="703.64" y="1150.00" style='font-family:"Liberation Sans", sans-serif' font-size="20.5" font-weight="bold" fill="#000" textLength="7.08" lengthAdjust="spacingAndGlyphs" stroke="#000" stroke-width="0.4">(</text><text x="711.39" y="1150.00" style='font-family:"Liberation Serif", serif' font-size="20.5" fill="#222" textLength="13.13" lengthAdjust="spacingAndGlyphs" stroke="#222" stroke-width="0.25">Ω</text><text x="724.47" y="1150.00" style='font-family:"Liberation Serif", serif' font-size="20.5" font-style="italic" fill="#222" textLength="27.62" lengthAdjust="spacingAndGlyphs" stroke="#222" stroke-width="0.25">cm</text><text x="753.16" y="1141.00" style='font-family:"Liberation Serif", serif' font-size="10" fill="#222" textLength="7.23" lengthAdjust="spacingAndGlyphs">2</text><text x="765.08" y="1150.00" style='font-family:"Liberation Sans", sans-serif' font-size="20.5" font-weight="bold" fill="#000" textLength="6.25" lengthAdjust="spacingAndGlyphs" stroke="#000" stroke-width="0.4">)</text>
<text x="1010.34" y="1150.00" style='font-family:"Liberation Sans", sans-serif' font-size="20.5" font-weight="bold" fill="#000" textLength="59.73" lengthAdjust="spacingAndGlyphs" stroke="#000" stroke-width="0.4">Re(Z)</text><text x="1078.84" y="1150.00" style='font-family:"Liberation Sans", sans-serif' font-size="20.5" font-weight="bold" fill="#000" textLength="7.08" lengthAdjust="spacingAndGlyphs" stroke="#000" stroke-width="0.4">(</text><text x="1086.59" y="1150.00" style='font-family:"Liberation Serif", serif' font-size="20.5" fill="#222" textLength="13.13" lengthAdjust="spacingAndGlyphs" stroke="#222" stroke-width="0.25">Ω</text><text x="1099.67" y="1150.00" style='font-family:"Liberation Serif", serif' font-size="20.5" font-style="italic" fill="#222" textLength="27.62" lengthAdjust="spacingAndGlyphs" stroke="#222" stroke-width="0.25">cm</text><text x="1128.36" y="1141.00" style='font-family:"Liberation Serif", serif' font-size="10" fill="#222" textLength="7.23" lengthAdjust="spacingAndGlyphs">2</text><text x="1140.28" y="1150.00" style='font-family:"Liberation Sans", sans-serif' font-size="20.5" font-weight="bold" fill="#000" textLength="6.25" lengthAdjust="spacingAndGlyphs" stroke="#000" stroke-width="0.4">)</text>
<text x="-72.36" y="0.00" style='font-family:"Liberation Sans", sans-serif' font-size="20" font-weight="bold" fill="#000" textLength="68.39" lengthAdjust="spacingAndGlyphs" transform="translate(97.20,204.65) rotate(-90)" stroke="#000" stroke-width="0.4">-Im(Z)</text><text x="4.29" y="0.00" style='font-family:"Liberation Sans", sans-serif' font-size="20" font-weight="bold" fill="#000" textLength="6.73" lengthAdjust="spacingAndGlyphs" transform="translate(97.20,204.65) rotate(-90)" stroke="#000" stroke-width="0.4">(</text><text x="13.33" y="-0.50" style='font-family:"Liberation Serif", serif' font-size="20" fill="#222" textLength="13.94" lengthAdjust="spacingAndGlyphs" transform="translate(97.20,204.65) rotate(-90)" stroke="#222" stroke-width="0.25">Ω</text><text x="28.27" y="-0.50" style='font-family:"Liberation Serif", serif' font-size="20" font-style="italic" fill="#222" textLength="23.78" lengthAdjust="spacingAndGlyphs" transform="translate(97.20,204.65) rotate(-90)" stroke="#222" stroke-width="0.25">cm</text><text x="55.70" y="-8.60" style='font-family:"Liberation Serif", serif' font-size="10" fill="#222" textLength="5.74" lengthAdjust="spacingAndGlyphs" transform="translate(97.20,204.65) rotate(-90)">2</text><text x="65.58" y="0.00" style='font-family:"Liberation Sans", sans-serif' font-size="20" font-weight="bold" fill="#000" textLength="5.55" lengthAdjust="spacingAndGlyphs" transform="translate(97.20,204.65) rotate(-90)" stroke="#000" stroke-width="0.4">)</text>
<text x="-72.36" y="0.00" style='font-family:"Liberation Sans", sans-serif' font-size="20" font-weight="bold" fill="#000" textLength="68.39" lengthAdjust="spacingAndGlyphs" transform="translate(97.20,566.15) rotate(-90)" stroke="#000" stroke-width="0.4">-Im(Z)</text><text x="4.29" y="0.00" style='font-family:"Liberation Sans", sans-serif' font-size="20" font-weight="bold" fill="#000" textLength="6.73" lengthAdjust="spacingAndGlyphs" transform="translate(97.20,566.15) rotate(-90)" stroke="#000" stroke-width="0.4">(</text><text x="13.33" y="-0.50" style='font-family:"Liberation Serif", serif' font-size="20" fill="#222" textLength="13.94" lengthAdjust="spacingAndGlyphs" transform="translate(97.20,566.15) rotate(-90)" stroke="#222" stroke-width="0.25">Ω</text><text x="28.27" y="-0.50" style='font-family:"Liberation Serif", serif' font-size="20" font-style="italic" fill="#222" textLength="23.78" lengthAdjust="spacingAndGlyphs" transform="translate(97.20,566.15) rotate(-90)" stroke="#222" stroke-width="0.25">cm</text><text x="55.70" y="-8.60" style='font-family:"Liberation Serif", serif' font-size="10" fill="#222" textLength="5.74" lengthAdjust="spacingAndGlyphs" transform="translate(97.20,566.15) rotate(-90)">2</text><text x="65.58" y="0.00" style='font-family:"Liberation Sans", sans-serif' font-size="20" font-weight="bold" fill="#000" textLength="5.55" lengthAdjust="spacingAndGlyphs" transform="translate(97.20,566.15) rotate(-90)" stroke="#000" stroke-width="0.4">)</text>
<text x="-72.36" y="0.00" style='font-family:"Liberation Sans", sans-serif' font-size="20" font-weight="bold" fill="#000" textLength="68.39" lengthAdjust="spacingAndGlyphs" transform="translate(97.20,927.80) rotate(-90)" stroke="#000" stroke-width="0.4">-Im(Z)</text><text x="4.29" y="0.00" style='font-family:"Liberation Sans", sans-serif' font-size="20" font-weight="bold" fill="#000" textLength="6.73" lengthAdjust="spacingAndGlyphs" transform="translate(97.20,927.80) rotate(-90)" stroke="#000" stroke-width="0.4">(</text><text x="13.33" y="-0.50" style='font-family:"Liberation Serif", serif' font-size="20" fill="#222" textLength="13.94" lengthAdjust="spacingAndGlyphs" transform="translate(97.20,927.80) rotate(-90)" stroke="#222" stroke-width="0.25">Ω</text><text x="28.27" y="-0.50" style='font-family:"Liberation Serif", serif' font-size="20" font-style="italic" fill="#222" textLength="23.78" lengthAdjust="spacingAndGlyphs" transform="translate(97.20,927.80) rotate(-90)" stroke="#222" stroke-width="0.25">cm</text><text x="55.70" y="-8.60" style='font-family:"Liberation Serif", serif' font-size="10" fill="#222" textLength="5.74" lengthAdjust="spacingAndGlyphs" transform="translate(97.20,927.80) rotate(-90)">2</text><text x="65.58" y="0.00" style='font-family:"Liberation Sans", sans-serif' font-size="20" font-weight="bold" fill="#000" textLength="5.55" lengthAdjust="spacingAndGlyphs" transform="translate(97.20,927.80) rotate(-90)" stroke="#000" stroke-width="0.4">)</text>
<text x="136.35" y="1125.60" style='font-family:"Liberation Sans", sans-serif' font-size="16.3" fill="#333" textLength="9.51" lengthAdjust="spacingAndGlyphs" stroke="#333" stroke-width="0.15">0</text>
<text x="220.46" y="1125.60" style='font-family:"Liberation Sans", sans-serif' font-size="16.3" fill="#333" textLength="28.53" lengthAdjust="spacingAndGlyphs" stroke="#333" stroke-width="0.15">200</text>
<text x="314.42" y="1125.60" style='font-family:"Liberation Sans", sans-serif' font-size="16.3" fill="#333" textLength="28.53" lengthAdjust="spacingAndGlyphs" stroke="#333" stroke-width="0.15">400</text>
<text x="407.91" y="1125.60" style='font-family:"Liberation Sans", sans-serif' font-size="16.3" fill="#333" textLength="28.53" lengthAdjust="spacingAndGlyphs" stroke="#333" stroke-width="0.15">600</text>
<text x="501.70" y="1125.60" style='font-family:"Liberation Sans", sans-serif' font-size="16.3" fill="#333" textLength="28.53" lengthAdjust="spacingAndGlyphs" stroke="#333" stroke-width="0.15">800</text>
<text x="511.25" y="1125.60" style='font-family:"Liberation Sans", sans-serif' font-size="16.3" fill="#333" textLength="9.51" lengthAdjust="spacingAndGlyphs" stroke="#333" stroke-width="0.15">0</text>
<text x="595.44" y="1125.60" style='font-family:"Liberation Sans", sans-serif' font-size="16.3" fill="#333" textLength="28.53" lengthAdjust="spacingAndGlyphs" stroke="#333" stroke-width="0.15">200</text>
<text x="689.47" y="1125.60" style='font-family:"Liberation Sans", sans-serif' font-size="16.3" fill="#333" textLength="28.53" lengthAdjust="spacingAndGlyphs" stroke="#333" stroke-width="0.15">400</text>
<text x="783.04" y="1125.60" style='font-family:"Liberation Sans", sans-serif' font-size="16.3" fill="#333" textLength="28.53" lengthAdjust="spacingAndGlyphs" stroke="#333" stroke-width="0.15">600</text>
<text x="876.90" y="1125.60" style='font-family:"Liberation Sans", sans-serif' font-size="16.3" fill="#333" textLength="28.53" lengthAdjust="spacingAndGlyphs" stroke="#333" stroke-width="0.15">800</text>
<text x="886.45" y="1125.60" style='font-family:"Liberation Sans", sans-serif' font-size="16.3" fill="#333" textLength="9.51" lengthAdjust="spacingAndGlyphs" stroke="#333" stroke-width="0.15">0</text>
<text x="970.64" y="1125.60" style='font-family:"Liberation Sans", sans-serif' font-size="16.3" fill="#333" textLength="28.53" lengthAdjust="spacingAndGlyphs" stroke="#333" stroke-width="0.15">200</text>
<text x="1064.67" y="1125.60" style='font-family:"Liberation Sans", sans-serif' font-size="16.3" fill="#333" textLength="28.53" lengthAdjust="spacingAndGlyphs" stroke="#333" stroke-width="0.15">400</text>
<text x="1158.24" y="1125.60" style='font-family:"Liberation Sans", sans-serif' font-size="16.3" fill="#333" textLength="28.53" lengthAdjust="spacingAndGlyphs" stroke="#333" stroke-width="0.15">600</text>
<text x="1252.10" y="1125.60" style='font-family:"Liberation Sans", sans-serif' font-size="16.3" fill="#333" textLength="28.53" lengthAdjust="spacingAndGlyphs" stroke="#333" stroke-width="0.15">800</text>
<text x="126.56" y="389.80" style='font-family:"Liberation Sans", sans-serif' font-size="16.3" fill="#333" textLength="9.51" lengthAdjust="spacingAndGlyphs" stroke="#333" stroke-width="0.15">0</text>
<text x="107.54" y="269.30" style='font-family:"Liberation Sans", sans-serif' font-size="16.3" fill="#333" textLength="28.53" lengthAdjust="spacingAndGlyphs" stroke="#333" stroke-width="0.15">100</text>
<text x="107.54" y="148.80" style='font-family:"Liberation Sans", sans-serif' font-size="16.3" fill="#333" textLength="28.53" lengthAdjust="spacingAndGlyphs" stroke="#333" stroke-width="0.15">200</text>
<text x="107.54" y="28.30" style='font-family:"Liberation Sans", sans-serif' font-size="16.3" fill="#333" textLength="28.53" lengthAdjust="spacingAndGlyphs" stroke="#333" stroke-width="0.15">300</text>
<text x="126.56" y="751.30" style='font-family:"Liberation Sans", sans-serif' font-size="16.3" fill="#333" textLength="9.51" lengthAdjust="spacingAndGlyphs" stroke="#333" stroke-width="0.15">0</text>
<text x="107.54" y="630.80" style='font-family:"Liberation Sans", sans-serif' font-size="16.3" fill="#333" textLength="28.53" lengthAdjust="spacingAndGlyphs" stroke="#333" stroke-width="0.15">100</text>
<text x="107.54" y="510.30" style='font-family:"Liberation Sans", sans-serif' font-size="16.3" fill="#333" textLength="28.53" lengthAdjust="spacingAndGlyphs" stroke="#333" stroke-width="0.15">200</text>
<text x="126.56" y="1113.10" style='font-family:"Liberation Sans", sans-serif' font-size="16.3" fill="#333" textLength="9.51" lengthAdjust="spacingAndGlyphs" stroke="#333" stroke-width="0.15">0</text>
<text x="107.54" y="992.50" style='font-family:"Liberation Sans", sans-serif' font-size="16.3" fill="#333" textLength="28.53" lengthAdjust="spacingAndGlyphs" stroke="#333" stroke-width="0.15">100</text>
<text x="107.54" y="871.90" style='font-family:"Liberation Sans", sans-serif' font-size="16.3" fill="#333" textLength="28.53" lengthAdjust="spacingAndGlyphs" stroke="#333" stroke-width="0.15">200</text>
<text x="152.92" y="53.90" style='font-family:"Liberation Sans", sans-serif' font-size="19" font-weight="bold" fill="#000" textLength="33.75" lengthAdjust="spacingAndGlyphs" stroke="#000" stroke-width="0.4">a1)</text>
<text x="526.98" y="53.90" style='font-family:"Liberation Sans", sans-serif' font-size="19" font-weight="bold" fill="#000" textLength="34.57" lengthAdjust="spacingAndGlyphs" stroke="#000" stroke-width="0.4">b1)</text>
<text x="902.78" y="53.90" style='font-family:"Liberation Sans", sans-serif' font-size="19" font-weight="bold" fill="#000" textLength="33.99" lengthAdjust="spacingAndGlyphs" stroke="#000" stroke-width="0.4">c1)</text>
<text x="152.92" y="415.40" style='font-family:"Liberation Sans", sans-serif' font-size="19" font-weight="bold" fill="#000" textLength="33.75" lengthAdjust="spacingAndGlyphs" stroke="#000" stroke-width="0.4">a2)</text>
<text x="526.98" y="415.40" style='font-family:"Liberation Sans", sans-serif' font-size="19" font-weight="bold" fill="#000" textLength="34.57" lengthAdjust="spacingAndGlyphs" stroke="#000" stroke-width="0.4">b2)</text>
<text x="902.78" y="415.40" style='font-family:"Liberation Sans", sans-serif' font-size="19" font-weight="bold" fill="#000" textLength="33.99" lengthAdjust="spacingAndGlyphs" stroke="#000" stroke-width="0.4">c2)</text>
<text x="152.92" y="776.90" style='font-family:"Liberation Sans", sans-serif' font-size="19" font-weight="bold" fill="#000" textLength="33.75" lengthAdjust="spacingAndGlyphs" stroke="#000" stroke-width="0.4">a3)</text>
<text x="526.98" y="776.90" style='font-family:"Liberation Sans", sans-serif' font-size="19" font-weight="bold" fill="#000" textLength="34.57" lengthAdjust="spacingAndGlyphs" stroke="#000" stroke-width="0.4">b3)</text>
<text x="902.78" y="776.90" style='font-family:"Liberation Sans", sans-serif' font-size="19" font-weight="bold" fill="#000" textLength="33.99" lengthAdjust="spacingAndGlyphs" stroke="#000" stroke-width="0.4">c3)</text>
<circle cx="407.9" cy="34.9" r="2" fill="#111"/>
<circle cx="407.9" cy="55.1" r="1.95" fill="#cc2a34"/>
<text x="421.35" y="39.60" style='font-family:"Liberation Sans", sans-serif' font-size="14" fill="#1a1a1a" textLength="89.36" lengthAdjust="spacingAndGlyphs">non-blocking</text>
<text x="421.37" y="59.80" style='font-family:"Liberation Sans", sans-serif' font-size="14" fill="#1a1a1a" textLength="58.35" lengthAdjust="spacingAndGlyphs">blocking</text>
<circle cx="782.8" cy="34.9" r="2" fill="#111"/>
<circle cx="782.8" cy="55.1" r="1.95" fill="#cc2a34"/>
<text x="796.25" y="39.60" style='font-family:"Liberation Sans", sans-serif' font-size="14" fill="#1a1a1a" textLength="89.36" lengthAdjust="spacingAndGlyphs">non-blocking</text>
<text x="796.27" y="59.80" style='font-family:"Liberation Sans", sans-serif' font-size="14" fill="#1a1a1a" textLength="58.35" lengthAdjust="spacingAndGlyphs">blocking</text>
<circle cx="1158.0" cy="34.9" r="2" fill="#111"/>
<circle cx="1158.0" cy="55.1" r="1.95" fill="#cc2a34"/>
<text x="1171.45" y="39.60" style='font-family:"Liberation Sans", sans-serif' font-size="14" fill="#1a1a1a" textLength="89.36" lengthAdjust="spacingAndGlyphs">non-blocking</text>
<text x="1171.47" y="59.80" style='font-family:"Liberation Sans", sans-serif' font-size="14" fill="#1a1a1a" textLength="58.35" lengthAdjust="spacingAndGlyphs">blocking</text>
<text x="213.00" y="293.00" style='font-family:"Liberation Sans", sans-serif' font-size="11.3" fill="#333" textLength="6.20" lengthAdjust="spacingAndGlyphs">0</text>
<text x="281.81" y="293.00" style='font-family:"Liberation Sans", sans-serif' font-size="11.3" fill="#333" textLength="18.59" lengthAdjust="spacingAndGlyphs">200</text>
<text x="357.03" y="293.00" style='font-family:"Liberation Sans", sans-serif' font-size="11.3" fill="#333" textLength="18.59" lengthAdjust="spacingAndGlyphs">400</text>
<text x="431.94" y="293.00" style='font-family:"Liberation Sans", sans-serif' font-size="11.3" fill="#333" textLength="18.59" lengthAdjust="spacingAndGlyphs">600</text>
<text x="204.54" y="283.70" style='font-family:"Liberation Sans", sans-serif' font-size="11.3" fill="#333" textLength="6.20" lengthAdjust="spacingAndGlyphs">0</text>
<text x="198.34" y="229.60" style='font-family:"Liberation Sans", sans-serif' font-size="11.3" fill="#333" textLength="12.39" lengthAdjust="spacingAndGlyphs">50</text>
<text x="192.15" y="175.50" style='font-family:"Liberation Sans", sans-serif' font-size="11.3" fill="#333" textLength="18.59" lengthAdjust="spacingAndGlyphs">100</text>
<text x="192.15" y="121.40" style='font-family:"Liberation Sans", sans-serif' font-size="11.3" fill="#333" textLength="18.59" lengthAdjust="spacingAndGlyphs">150</text>
<text x="192.15" y="67.30" style='font-family:"Liberation Sans", sans-serif' font-size="11.3" fill="#333" textLength="18.59" lengthAdjust="spacingAndGlyphs">200</text>
<text x="280.37" y="307.60" style='font-family:"Liberation Sans", sans-serif' font-size="15" fill="#222" textLength="41.54" lengthAdjust="spacingAndGlyphs">Re(Z)</text><text x="327.67" y="307.60" style='font-family:"Liberation Sans", sans-serif' font-size="15" fill="#222" textLength="3.89" lengthAdjust="spacingAndGlyphs">(</text><text x="332.72" y="307.60" style='font-family:"Liberation Serif", serif' font-size="15" fill="#222" textLength="11.27" lengthAdjust="spacingAndGlyphs">Ω</text><text x="343.39" y="307.60" style='font-family:"Liberation Serif", serif' font-size="15" font-style="italic" fill="#222" textLength="19.20" lengthAdjust="spacingAndGlyphs">cm</text><text x="364.94" y="301.60" style='font-family:"Liberation Serif", serif' font-size="7.5" fill="#222" textLength="4.12" lengthAdjust="spacingAndGlyphs">2</text><text x="372.24" y="307.60" style='font-family:"Liberation Sans", sans-serif' font-size="15" fill="#222" textLength="3.64" lengthAdjust="spacingAndGlyphs">)</text>
<text x="-50.61" y="0.00" style='font-family:"Liberation Sans", sans-serif' font-size="15" fill="#222" textLength="49.85" lengthAdjust="spacingAndGlyphs" transform="translate(188.30,172.10) rotate(-90)">-Im(Z)</text><text x="1.77" y="0.00" style='font-family:"Liberation Sans", sans-serif' font-size="15" fill="#222" textLength="3.89" lengthAdjust="spacingAndGlyphs" transform="translate(188.30,172.10) rotate(-90)">(</text><text x="6.82" y="0.00" style='font-family:"Liberation Serif", serif' font-size="15" fill="#222" textLength="11.27" lengthAdjust="spacingAndGlyphs" transform="translate(188.30,172.10) rotate(-90)">Ω</text><text x="17.49" y="0.00" style='font-family:"Liberation Serif", serif' font-size="15" font-style="italic" fill="#222" textLength="19.20" lengthAdjust="spacingAndGlyphs" transform="translate(188.30,172.10) rotate(-90)">cm</text><text x="39.04" y="-6.00" style='font-family:"Liberation Serif", serif' font-size="7.5" fill="#222" textLength="4.12" lengthAdjust="spacingAndGlyphs" transform="translate(188.30,172.10) rotate(-90)">2</text><text x="45.23" y="0.00" style='font-family:"Liberation Sans", sans-serif' font-size="15" fill="#222" textLength="3.89" lengthAdjust="spacingAndGlyphs" transform="translate(188.30,172.10) rotate(-90)">)</text>
<text x="587.90" y="293.00" style='font-family:"Liberation Sans", sans-serif' font-size="11.3" fill="#333" textLength="6.20" lengthAdjust="spacingAndGlyphs">0</text>
<text x="635.98" y="293.00" style='font-family:"Liberation Sans", sans-serif' font-size="11.3" fill="#333" textLength="12.39" lengthAdjust="spacingAndGlyphs">50</text>
<text x="683.86" y="293.00" style='font-family:"Liberation Sans", sans-serif' font-size="11.3" fill="#333" textLength="18.59" lengthAdjust="spacingAndGlyphs">100</text>
<text x="735.04" y="293.00" style='font-family:"Liberation Sans", sans-serif' font-size="11.3" fill="#333" textLength="18.59" lengthAdjust="spacingAndGlyphs">150</text>
<text x="786.37" y="293.00" style='font-family:"Liberation Sans", sans-serif' font-size="11.3" fill="#333" textLength="18.59" lengthAdjust="spacingAndGlyphs">200</text>
<text x="579.44" y="283.70" style='font-family:"Liberation Sans", sans-serif' font-size="11.3" fill="#333" textLength="6.20" lengthAdjust="spacingAndGlyphs">0</text>
<text x="573.24" y="175.50" style='font-family:"Liberation Sans", sans-serif' font-size="11.3" fill="#333" textLength="12.39" lengthAdjust="spacingAndGlyphs">50</text>
<text x="567.05" y="67.30" style='font-family:"Liberation Sans", sans-serif' font-size="11.3" fill="#333" textLength="18.59" lengthAdjust="spacingAndGlyphs">100</text>
<text x="655.27" y="307.60" style='font-family:"Liberation Sans", sans-serif' font-size="15" fill="#222" textLength="41.54" lengthAdjust="spacingAndGlyphs">Re(Z)</text><text x="702.57" y="307.60" style='font-family:"Liberation Sans", sans-serif' font-size="15" fill="#222" textLength="3.89" lengthAdjust="spacingAndGlyphs">(</text><text x="707.62" y="307.60" style='font-family:"Liberation Serif", serif' font-size="15" fill="#222" textLength="11.27" lengthAdjust="spacingAndGlyphs">Ω</text><text x="718.29" y="307.60" style='font-family:"Liberation Serif", serif' font-size="15" font-style="italic" fill="#222" textLength="19.20" lengthAdjust="spacingAndGlyphs">cm</text><text x="739.84" y="301.60" style='font-family:"Liberation Serif", serif' font-size="7.5" fill="#222" textLength="4.12" lengthAdjust="spacingAndGlyphs">2</text><text x="747.14" y="307.60" style='font-family:"Liberation Sans", sans-serif' font-size="15" fill="#222" textLength="3.64" lengthAdjust="spacingAndGlyphs">)</text>
<text x="-50.61" y="0.00" style='font-family:"Liberation Sans", sans-serif' font-size="15" fill="#222" textLength="49.85" lengthAdjust="spacingAndGlyphs" transform="translate(563.20,172.10) rotate(-90)">-Im(Z)</text><text x="1.77" y="0.00" style='font-family:"Liberation Sans", sans-serif' font-size="15" fill="#222" textLength="3.89" lengthAdjust="spacingAndGlyphs" transform="translate(563.20,172.10) rotate(-90)">(</text><text x="6.82" y="0.00" style='font-family:"Liberation Serif", serif' font-size="15" fill="#222" textLength="11.27" lengthAdjust="spacingAndGlyphs" transform="translate(563.20,172.10) rotate(-90)">Ω</text><text x="17.49" y="0.00" style='font-family:"Liberation Serif", serif' font-size="15" font-style="italic" fill="#222" textLength="19.20" lengthAdjust="spacingAndGlyphs" transform="translate(563.20,172.10) rotate(-90)">cm</text><text x="39.04" y="-6.00" style='font-family:"Liberation Serif", serif' font-size="7.5" fill="#222" textLength="4.12" lengthAdjust="spacingAndGlyphs" transform="translate(563.20,172.10) rotate(-90)">2</text><text x="45.23" y="0.00" style='font-family:"Liberation Sans", sans-serif' font-size="15" fill="#222" textLength="3.89" lengthAdjust="spacingAndGlyphs" transform="translate(563.20,172.10) rotate(-90)">)</text>
<text x="963.10" y="293.00" style='font-family:"Liberation Sans", sans-serif' font-size="11.3" fill="#333" textLength="6.20" lengthAdjust="spacingAndGlyphs">0</text>
<text x="1013.14" y="293.00" style='font-family:"Liberation Sans", sans-serif' font-size="11.3" fill="#333" textLength="18.59" lengthAdjust="spacingAndGlyphs">200</text>
<text x="1069.59" y="293.00" style='font-family:"Liberation Sans", sans-serif' font-size="11.3" fill="#333" textLength="18.59" lengthAdjust="spacingAndGlyphs">400</text>
<text x="1125.74" y="293.00" style='font-family:"Liberation Sans", sans-serif' font-size="11.3" fill="#333" textLength="18.59" lengthAdjust="spacingAndGlyphs">600</text>
<text x="1182.08" y="293.00" style='font-family:"Liberation Sans", sans-serif' font-size="11.3" fill="#333" textLength="18.59" lengthAdjust="spacingAndGlyphs">800</text>
<text x="954.64" y="283.70" style='font-family:"Liberation Sans", sans-serif' font-size="11.3" fill="#333" textLength="6.20" lengthAdjust="spacingAndGlyphs">0</text>
<text x="942.25" y="197.14" style='font-family:"Liberation Sans", sans-serif' font-size="11.3" fill="#333" textLength="18.59" lengthAdjust="spacingAndGlyphs">100</text>
<text x="942.25" y="110.58" style='font-family:"Liberation Sans", sans-serif' font-size="11.3" fill="#333" textLength="18.59" lengthAdjust="spacingAndGlyphs">200</text>
<text x="1030.47" y="307.60" style='font-family:"Liberation Sans", sans-serif' font-size="15" fill="#222" textLength="41.54" lengthAdjust="spacingAndGlyphs">Re(Z)</text><text x="1077.77" y="307.60" style='font-family:"Liberation Sans", sans-serif' font-size="15" fill="#222" textLength="3.89" lengthAdjust="spacingAndGlyphs">(</text><text x="1082.82" y="307.60" style='font-family:"Liberation Serif", serif' font-size="15" fill="#222" textLength="11.27" lengthAdjust="spacingAndGlyphs">Ω</text><text x="1093.49" y="307.60" style='font-family:"Liberation Serif", serif' font-size="15" font-style="italic" fill="#222" textLength="19.20" lengthAdjust="spacingAndGlyphs">cm</text><text x="1115.04" y="301.60" style='font-family:"Liberation Serif", serif' font-size="7.5" fill="#222" textLength="4.12" lengthAdjust="spacingAndGlyphs">2</text><text x="1122.34" y="307.60" style='font-family:"Liberation Sans", sans-serif' font-size="15" fill="#222" textLength="3.64" lengthAdjust="spacingAndGlyphs">)</text>
<text x="-50.61" y="0.00" style='font-family:"Liberation Sans", sans-serif' font-size="15" fill="#222" textLength="49.85" lengthAdjust="spacingAndGlyphs" transform="translate(938.40,172.10) rotate(-90)">-Im(Z)</text><text x="1.77" y="0.00" style='font-family:"Liberation Sans", sans-serif' font-size="15" fill="#222" textLength="3.89" lengthAdjust="spacingAndGlyphs" transform="translate(938.40,172.10) rotate(-90)">(</text><text x="6.82" y="0.00" style='font-family:"Liberation Serif", serif' font-size="15" fill="#222" textLength="11.27" lengthAdjust="spacingAndGlyphs" transform="translate(938.40,172.10) rotate(-90)">Ω</text><text x="17.49" y="0.00" style='font-family:"Liberation Serif", serif' font-size="15" font-style="italic" fill="#222" textLength="19.20" lengthAdjust="spacingAndGlyphs" transform="translate(938.40,172.10) rotate(-90)">cm</text><text x="39.04" y="-6.00" style='font-family:"Liberation Serif", serif' font-size="7.5" fill="#222" textLength="4.12" lengthAdjust="spacingAndGlyphs" transform="translate(938.40,172.10) rotate(-90)">2</text><text x="45.23" y="0.00" style='font-family:"Liberation Sans", sans-serif' font-size="15" fill="#222" textLength="3.89" lengthAdjust="spacingAndGlyphs" transform="translate(938.40,172.10) rotate(-90)">)</text>
<text x="213.00" y="654.50" style='font-family:"Liberation Sans", sans-serif' font-size="11.3" fill="#333" textLength="6.20" lengthAdjust="spacingAndGlyphs">0</text>
<text x="274.24" y="654.50" style='font-family:"Liberation Sans", sans-serif' font-size="11.3" fill="#333" textLength="12.39" lengthAdjust="spacingAndGlyphs">50</text>
<text x="335.28" y="654.50" style='font-family:"Liberation Sans", sans-serif' font-size="11.3" fill="#333" textLength="18.59" lengthAdjust="spacingAndGlyphs">100</text>
<text x="399.63" y="654.50" style='font-family:"Liberation Sans", sans-serif' font-size="11.3" fill="#333" textLength="18.59" lengthAdjust="spacingAndGlyphs">150</text>
<text x="204.54" y="645.20" style='font-family:"Liberation Sans", sans-serif' font-size="11.3" fill="#333" textLength="6.20" lengthAdjust="spacingAndGlyphs">0</text>
<text x="198.34" y="583.37" style='font-family:"Liberation Sans", sans-serif' font-size="11.3" fill="#333" textLength="12.39" lengthAdjust="spacingAndGlyphs">20</text>
<text x="198.34" y="521.54" style='font-family:"Liberation Sans", sans-serif' font-size="11.3" fill="#333" textLength="12.39" lengthAdjust="spacingAndGlyphs">40</text>
<text x="198.34" y="459.71" style='font-family:"Liberation Sans", sans-serif' font-size="11.3" fill="#333" textLength="12.39" lengthAdjust="spacingAndGlyphs">60</text>
<text x="280.37" y="669.10" style='font-family:"Liberation Sans", sans-serif' font-size="15" fill="#222" textLength="41.54" lengthAdjust="spacingAndGlyphs">Re(Z)</text><text x="327.67" y="669.10" style='font-family:"Liberation Sans", sans-serif' font-size="15" fill="#222" textLength="3.89" lengthAdjust="spacingAndGlyphs">(</text><text x="332.72" y="669.10" style='font-family:"Liberation Serif", serif' font-size="15" fill="#222" textLength="11.27" lengthAdjust="spacingAndGlyphs">Ω</text><text x="343.39" y="669.10" style='font-family:"Liberation Serif", serif' font-size="15" font-style="italic" fill="#222" textLength="19.20" lengthAdjust="spacingAndGlyphs">cm</text><text x="364.94" y="663.10" style='font-family:"Liberation Serif", serif' font-size="7.5" fill="#222" textLength="4.12" lengthAdjust="spacingAndGlyphs">2</text><text x="372.24" y="669.10" style='font-family:"Liberation Sans", sans-serif' font-size="15" fill="#222" textLength="3.64" lengthAdjust="spacingAndGlyphs">)</text>
<text x="-50.61" y="0.00" style='font-family:"Liberation Sans", sans-serif' font-size="15" fill="#222" textLength="49.85" lengthAdjust="spacingAndGlyphs" transform="translate(188.30,533.60) rotate(-90)">-Im(Z)</text><text x="1.77" y="0.00" style='font-family:"Liberation Sans", sans-serif' font-size="15" fill="#222" textLength="3.89" lengthAdjust="spacingAndGlyphs" transform="translate(188.30,533.60) rotate(-90)">(</text><text x="6.82" y="0.00" style='font-family:"Liberation Serif", serif' font-size="15" fill="#222" textLength="11.27" lengthAdjust="spacingAndGlyphs" transform="translate(188.30,533.60) rotate(-90)">Ω</text><text x="17.49" y="0.00" style='font-family:"Liberation Serif", serif' font-size="15" font-style="italic" fill="#222" textLength="19.20" lengthAdjust="spacingAndGlyphs" transform="translate(188.30,533.60) rotate(-90)">cm</text><text x="39.04" y="-6.00" style='font-family:"Liberation Serif", serif' font-size="7.5" fill="#222" textLength="4.12" lengthAdjust="spacingAndGlyphs" transform="translate(188.30,533.60) rotate(-90)">2</text><text x="45.23" y="0.00" style='font-family:"Liberation Sans", sans-serif' font-size="15" fill="#222" textLength="3.89" lengthAdjust="spacingAndGlyphs" transform="translate(188.30,533.60) rotate(-90)">)</text>
<text x="587.90" y="654.50" style='font-family:"Liberation Sans", sans-serif' font-size="11.3" fill="#333" textLength="6.20" lengthAdjust="spacingAndGlyphs">0</text>
<text x="629.78" y="654.50" style='font-family:"Liberation Sans", sans-serif' font-size="11.3" fill="#333" textLength="12.39" lengthAdjust="spacingAndGlyphs">20</text>
<text x="674.97" y="654.50" style='font-family:"Liberation Sans", sans-serif' font-size="11.3" fill="#333" textLength="12.39" lengthAdjust="spacingAndGlyphs">40</text>
<text x="719.86" y="654.50" style='font-family:"Liberation Sans", sans-serif' font-size="11.3" fill="#333" textLength="12.39" lengthAdjust="spacingAndGlyphs">60</text>
<text x="764.94" y="654.50" style='font-family:"Liberation Sans", sans-serif' font-size="11.3" fill="#333" textLength="12.39" lengthAdjust="spacingAndGlyphs">80</text>
<text x="806.70" y="654.50" style='font-family:"Liberation Sans", sans-serif' font-size="11.3" fill="#333" textLength="18.59" lengthAdjust="spacingAndGlyphs">100</text>
<text x="579.44" y="645.20" style='font-family:"Liberation Sans", sans-serif' font-size="11.3" fill="#333" textLength="6.20" lengthAdjust="spacingAndGlyphs">0</text>
<text x="573.24" y="591.10" style='font-family:"Liberation Sans", sans-serif' font-size="11.3" fill="#333" textLength="12.39" lengthAdjust="spacingAndGlyphs">10</text>
<text x="573.24" y="537.00" style='font-family:"Liberation Sans", sans-serif' font-size="11.3" fill="#333" textLength="12.39" lengthAdjust="spacingAndGlyphs">20</text>
<text x="573.24" y="482.90" style='font-family:"Liberation Sans", sans-serif' font-size="11.3" fill="#333" textLength="12.39" lengthAdjust="spacingAndGlyphs">30</text>
<text x="573.24" y="428.80" style='font-family:"Liberation Sans", sans-serif' font-size="11.3" fill="#333" textLength="12.39" lengthAdjust="spacingAndGlyphs">40</text>
<text x="655.27" y="669.10" style='font-family:"Liberation Sans", sans-serif' font-size="15" fill="#222" textLength="41.54" lengthAdjust="spacingAndGlyphs">Re(Z)</text><text x="702.57" y="669.10" style='font-family:"Liberation Sans", sans-serif' font-size="15" fill="#222" textLength="3.89" lengthAdjust="spacingAndGlyphs">(</text><text x="707.62" y="669.10" style='font-family:"Liberation Serif", serif' font-size="15" fill="#222" textLength="11.27" lengthAdjust="spacingAndGlyphs">Ω</text><text x="718.29" y="669.10" style='font-family:"Liberation Serif", serif' font-size="15" font-style="italic" fill="#222" textLength="19.20" lengthAdjust="spacingAndGlyphs">cm</text><text x="739.84" y="663.10" style='font-family:"Liberation Serif", serif' font-size="7.5" fill="#222" textLength="4.12" lengthAdjust="spacingAndGlyphs">2</text><text x="747.14" y="669.10" style='font-family:"Liberation Sans", sans-serif' font-size="15" fill="#222" textLength="3.64" lengthAdjust="spacingAndGlyphs">)</text>
<text x="-50.61" y="0.00" style='font-family:"Liberation Sans", sans-serif' font-size="15" fill="#222" textLength="49.85" lengthAdjust="spacingAndGlyphs" transform="translate(563.20,533.60) rotate(-90)">-Im(Z)</text><text x="1.77" y="0.00" style='font-family:"Liberation Sans", sans-serif' font-size="15" fill="#222" textLength="3.89" lengthAdjust="spacingAndGlyphs" transform="translate(563.20,533.60) rotate(-90)">(</text><text x="6.82" y="0.00" style='font-family:"Liberation Serif", serif' font-size="15" fill="#222" textLength="11.27" lengthAdjust="spacingAndGlyphs" transform="translate(563.20,533.60) rotate(-90)">Ω</text><text x="17.49" y="0.00" style='font-family:"Liberation Serif", serif' font-size="15" font-style="italic" fill="#222" textLength="19.20" lengthAdjust="spacingAndGlyphs" transform="translate(563.20,533.60) rotate(-90)">cm</text><text x="39.04" y="-6.00" style='font-family:"Liberation Serif", serif' font-size="7.5" fill="#222" textLength="4.12" lengthAdjust="spacingAndGlyphs" transform="translate(563.20,533.60) rotate(-90)">2</text><text x="45.23" y="0.00" style='font-family:"Liberation Sans", sans-serif' font-size="15" fill="#222" textLength="3.89" lengthAdjust="spacingAndGlyphs" transform="translate(563.20,533.60) rotate(-90)">)</text>
<text x="963.10" y="654.50" style='font-family:"Liberation Sans", sans-serif' font-size="11.3" fill="#333" textLength="6.20" lengthAdjust="spacingAndGlyphs">0</text>
<text x="1031.77" y="654.50" style='font-family:"Liberation Sans", sans-serif' font-size="11.3" fill="#333" textLength="18.59" lengthAdjust="spacingAndGlyphs">100</text>
<text x="1106.98" y="654.50" style='font-family:"Liberation Sans", sans-serif' font-size="11.3" fill="#333" textLength="18.59" lengthAdjust="spacingAndGlyphs">200</text>
<text x="1182.11" y="654.50" style='font-family:"Liberation Sans", sans-serif' font-size="11.3" fill="#333" textLength="18.59" lengthAdjust="spacingAndGlyphs">300</text>
<text x="954.64" y="645.20" style='font-family:"Liberation Sans", sans-serif' font-size="11.3" fill="#333" textLength="6.20" lengthAdjust="spacingAndGlyphs">0</text>
<text x="948.44" y="583.37" style='font-family:"Liberation Sans", sans-serif' font-size="11.3" fill="#333" textLength="12.39" lengthAdjust="spacingAndGlyphs">20</text>
<text x="948.44" y="521.54" style='font-family:"Liberation Sans", sans-serif' font-size="11.3" fill="#333" textLength="12.39" lengthAdjust="spacingAndGlyphs">40</text>
<text x="948.44" y="459.71" style='font-family:"Liberation Sans", sans-serif' font-size="11.3" fill="#333" textLength="12.39" lengthAdjust="spacingAndGlyphs">60</text>
<text x="1030.47" y="669.10" style='font-family:"Liberation Sans", sans-serif' font-size="15" fill="#222" textLength="41.54" lengthAdjust="spacingAndGlyphs">Re(Z)</text><text x="1077.77" y="669.10" style='font-family:"Liberation Sans", sans-serif' font-size="15" fill="#222" textLength="3.89" lengthAdjust="spacingAndGlyphs">(</text><text x="1082.82" y="669.10" style='font-family:"Liberation Serif", serif' font-size="15" fill="#222" textLength="11.27" lengthAdjust="spacingAndGlyphs">Ω</text><text x="1093.49" y="669.10" style='font-family:"Liberation Serif", serif' font-size="15" font-style="italic" fill="#222" textLength="19.20" lengthAdjust="spacingAndGlyphs">cm</text><text x="1115.04" y="663.10" style='font-family:"Liberation Serif", serif' font-size="7.5" fill="#222" textLength="4.12" lengthAdjust="spacingAndGlyphs">2</text><text x="1122.34" y="669.10" style='font-family:"Liberation Sans", sans-serif' font-size="15" fill="#222" textLength="3.64" lengthAdjust="spacingAndGlyphs">)</text>
<text x="-50.61" y="0.00" style='font-family:"Liberation Sans", sans-serif' font-size="15" fill="#222" textLength="49.85" lengthAdjust="spacingAndGlyphs" transform="translate(938.40,533.60) rotate(-90)">-Im(Z)</text><text x="1.77" y="0.00" style='font-family:"Liberation Sans", sans-serif' font-size="15" fill="#222" textLength="3.89" lengthAdjust="spacingAndGlyphs" transform="translate(938.40,533.60) rotate(-90)">(</text><text x="6.82" y="0.00" style='font-family:"Liberation Serif", serif' font-size="15" fill="#222" textLength="11.27" lengthAdjust="spacingAndGlyphs" transform="translate(938.40,533.60) rotate(-90)">Ω</text><text x="17.49" y="0.00" style='font-family:"Liberation Serif", serif' font-size="15" font-style="italic" fill="#222" textLength="19.20" lengthAdjust="spacingAndGlyphs" transform="translate(938.40,533.60) rotate(-90)">cm</text><text x="39.04" y="-6.00" style='font-family:"Liberation Serif", serif' font-size="7.5" fill="#222" textLength="4.12" lengthAdjust="spacingAndGlyphs" transform="translate(938.40,533.60) rotate(-90)">2</text><text x="45.23" y="0.00" style='font-family:"Liberation Sans", sans-serif' font-size="15" fill="#222" textLength="3.89" lengthAdjust="spacingAndGlyphs" transform="translate(938.40,533.60) rotate(-90)">)</text>
<text x="213.00" y="1016.30" style='font-family:"Liberation Sans", sans-serif' font-size="11.3" fill="#333" textLength="6.20" lengthAdjust="spacingAndGlyphs">0</text>
<text x="266.14" y="1016.30" style='font-family:"Liberation Sans", sans-serif' font-size="11.3" fill="#333" textLength="12.39" lengthAdjust="spacingAndGlyphs">20</text>
<text x="322.59" y="1016.30" style='font-family:"Liberation Sans", sans-serif' font-size="11.3" fill="#333" textLength="12.39" lengthAdjust="spacingAndGlyphs">40</text>
<text x="378.74" y="1016.30" style='font-family:"Liberation Sans", sans-serif' font-size="11.3" fill="#333" textLength="12.39" lengthAdjust="spacingAndGlyphs">60</text>
<text x="435.08" y="1016.30" style='font-family:"Liberation Sans", sans-serif' font-size="11.3" fill="#333" textLength="12.39" lengthAdjust="spacingAndGlyphs">80</text>
<text x="204.54" y="1007.00" style='font-family:"Liberation Sans", sans-serif' font-size="11.3" fill="#333" textLength="6.20" lengthAdjust="spacingAndGlyphs">0</text>
<text x="204.57" y="952.90" style='font-family:"Liberation Sans", sans-serif' font-size="11.3" fill="#333" textLength="6.20" lengthAdjust="spacingAndGlyphs">5</text>
<text x="198.34" y="898.80" style='font-family:"Liberation Sans", sans-serif' font-size="11.3" fill="#333" textLength="12.39" lengthAdjust="spacingAndGlyphs">10</text>
<text x="198.37" y="844.70" style='font-family:"Liberation Sans", sans-serif' font-size="11.3" fill="#333" textLength="12.39" lengthAdjust="spacingAndGlyphs">15</text>
<text x="198.34" y="790.60" style='font-family:"Liberation Sans", sans-serif' font-size="11.3" fill="#333" textLength="12.39" lengthAdjust="spacingAndGlyphs">20</text>
<text x="280.37" y="1030.90" style='font-family:"Liberation Sans", sans-serif' font-size="15" fill="#222" textLength="41.54" lengthAdjust="spacingAndGlyphs">Re(Z)</text><text x="327.67" y="1030.90" style='font-family:"Liberation Sans", sans-serif' font-size="15" fill="#222" textLength="3.89" lengthAdjust="spacingAndGlyphs">(</text><text x="332.72" y="1030.90" style='font-family:"Liberation Serif", serif' font-size="15" fill="#222" textLength="11.27" lengthAdjust="spacingAndGlyphs">Ω</text><text x="343.39" y="1030.90" style='font-family:"Liberation Serif", serif' font-size="15" font-style="italic" fill="#222" textLength="19.20" lengthAdjust="spacingAndGlyphs">cm</text><text x="364.94" y="1024.90" style='font-family:"Liberation Serif", serif' font-size="7.5" fill="#222" textLength="4.12" lengthAdjust="spacingAndGlyphs">2</text><text x="372.24" y="1030.90" style='font-family:"Liberation Sans", sans-serif' font-size="15" fill="#222" textLength="3.64" lengthAdjust="spacingAndGlyphs">)</text>
<text x="-50.61" y="0.00" style='font-family:"Liberation Sans", sans-serif' font-size="15" fill="#222" textLength="49.85" lengthAdjust="spacingAndGlyphs" transform="translate(188.30,895.40) rotate(-90)">-Im(Z)</text><text x="1.77" y="0.00" style='font-family:"Liberation Sans", sans-serif' font-size="15" fill="#222" textLength="3.89" lengthAdjust="spacingAndGlyphs" transform="translate(188.30,895.40) rotate(-90)">(</text><text x="6.82" y="0.00" style='font-family:"Liberation Serif", serif' font-size="15" fill="#222" textLength="11.27" lengthAdjust="spacingAndGlyphs" transform="translate(188.30,895.40) rotate(-90)">Ω</text><text x="17.49" y="0.00" style='font-family:"Liberation Serif", serif' font-size="15" font-style="italic" fill="#222" textLength="19.20" lengthAdjust="spacingAndGlyphs" transform="translate(188.30,895.40) rotate(-90)">cm</text><text x="39.04" y="-6.00" style='font-family:"Liberation Serif", serif' font-size="7.5" fill="#222" textLength="4.12" lengthAdjust="spacingAndGlyphs" transform="translate(188.30,895.40) rotate(-90)">2</text><text x="45.23" y="0.00" style='font-family:"Liberation Sans", sans-serif' font-size="15" fill="#222" textLength="3.89" lengthAdjust="spacingAndGlyphs" transform="translate(188.30,895.40) rotate(-90)">)</text>
<text x="587.90" y="1016.30" style='font-family:"Liberation Sans", sans-serif' font-size="11.3" fill="#333" textLength="6.20" lengthAdjust="spacingAndGlyphs">0</text>
<text x="629.64" y="1016.30" style='font-family:"Liberation Sans", sans-serif' font-size="11.3" fill="#333" textLength="12.39" lengthAdjust="spacingAndGlyphs">10</text>
<text x="674.82" y="1016.30" style='font-family:"Liberation Sans", sans-serif' font-size="11.3" fill="#333" textLength="12.39" lengthAdjust="spacingAndGlyphs">20</text>
<text x="719.93" y="1016.30" style='font-family:"Liberation Sans", sans-serif' font-size="11.3" fill="#333" textLength="12.39" lengthAdjust="spacingAndGlyphs">30</text>
<text x="765.05" y="1016.30" style='font-family:"Liberation Sans", sans-serif' font-size="11.3" fill="#333" textLength="12.39" lengthAdjust="spacingAndGlyphs">40</text>
<text x="810.00" y="1016.30" style='font-family:"Liberation Sans", sans-serif' font-size="11.3" fill="#333" textLength="12.39" lengthAdjust="spacingAndGlyphs">50</text>
<text x="579.44" y="1007.00" style='font-family:"Liberation Sans", sans-serif' font-size="11.3" fill="#333" textLength="6.20" lengthAdjust="spacingAndGlyphs">0</text>
<text x="579.47" y="934.87" style='font-family:"Liberation Sans", sans-serif' font-size="11.3" fill="#333" textLength="6.20" lengthAdjust="spacingAndGlyphs">5</text>
<text x="573.24" y="862.73" style='font-family:"Liberation Sans", sans-serif' font-size="11.3" fill="#333" textLength="12.39" lengthAdjust="spacingAndGlyphs">10</text>
<text x="573.27" y="790.60" style='font-family:"Liberation Sans", sans-serif' font-size="11.3" fill="#333" textLength="12.39" lengthAdjust="spacingAndGlyphs">15</text>
<text x="655.27" y="1030.90" style='font-family:"Liberation Sans", sans-serif' font-size="15" fill="#222" textLength="41.54" lengthAdjust="spacingAndGlyphs">Re(Z)</text><text x="702.57" y="1030.90" style='font-family:"Liberation Sans", sans-serif' font-size="15" fill="#222" textLength="3.89" lengthAdjust="spacingAndGlyphs">(</text><text x="707.62" y="1030.90" style='font-family:"Liberation Serif", serif' font-size="15" fill="#222" textLength="11.27" lengthAdjust="spacingAndGlyphs">Ω</text><text x="718.29" y="1030.90" style='font-family:"Liberation Serif", serif' font-size="15" font-style="italic" fill="#222" textLength="19.20" lengthAdjust="spacingAndGlyphs">cm</text><text x="739.84" y="1024.90" style='font-family:"Liberation Serif", serif' font-size="7.5" fill="#222" textLength="4.12" lengthAdjust="spacingAndGlyphs">2</text><text x="747.14" y="1030.90" style='font-family:"Liberation Sans", sans-serif' font-size="15" fill="#222" textLength="3.64" lengthAdjust="spacingAndGlyphs">)</text>
<text x="-50.61" y="0.00" style='font-family:"Liberation Sans", sans-serif' font-size="15" fill="#222" textLength="49.85" lengthAdjust="spacingAndGlyphs" transform="translate(563.20,895.40) rotate(-90)">-Im(Z)</text><text x="1.77" y="0.00" style='font-family:"Liberation Sans", sans-serif' font-size="15" fill="#222" textLength="3.89" lengthAdjust="spacingAndGlyphs" transform="translate(563.20,895.40) rotate(-90)">(</text><text x="6.82" y="0.00" style='font-family:"Liberation Serif", serif' font-size="15" fill="#222" textLength="11.27" lengthAdjust="spacingAndGlyphs" transform="translate(563.20,895.40) rotate(-90)">Ω</text><text x="17.49" y="0.00" style='font-family:"Liberation Serif", serif' font-size="15" font-style="italic" fill="#222" textLength="19.20" lengthAdjust="spacingAndGlyphs" transform="translate(563.20,895.40) rotate(-90)">cm</text><text x="39.04" y="-6.00" style='font-family:"Liberation Serif", serif' font-size="7.5" fill="#222" textLength="4.12" lengthAdjust="spacingAndGlyphs" transform="translate(563.20,895.40) rotate(-90)">2</text><text x="45.23" y="0.00" style='font-family:"Liberation Sans", sans-serif' font-size="15" fill="#222" textLength="3.89" lengthAdjust="spacingAndGlyphs" transform="translate(563.20,895.40) rotate(-90)">)</text>
<text x="963.10" y="1016.30" style='font-family:"Liberation Sans", sans-serif' font-size="11.3" fill="#333" textLength="6.20" lengthAdjust="spacingAndGlyphs">0</text>
<text x="1035.06" y="1016.30" style='font-family:"Liberation Sans", sans-serif' font-size="11.3" fill="#333" textLength="12.39" lengthAdjust="spacingAndGlyphs">50</text>
<text x="1106.83" y="1016.30" style='font-family:"Liberation Sans", sans-serif' font-size="11.3" fill="#333" textLength="18.59" lengthAdjust="spacingAndGlyphs">100</text>
<text x="1181.90" y="1016.30" style='font-family:"Liberation Sans", sans-serif' font-size="11.3" fill="#333" textLength="18.59" lengthAdjust="spacingAndGlyphs">150</text>
<text x="954.64" y="1007.00" style='font-family:"Liberation Sans", sans-serif' font-size="11.3" fill="#333" textLength="6.20" lengthAdjust="spacingAndGlyphs">0</text>
<text x="948.44" y="934.87" style='font-family:"Liberation Sans", sans-serif' font-size="11.3" fill="#333" textLength="12.39" lengthAdjust="spacingAndGlyphs">10</text>
<text x="948.44" y="862.73" style='font-family:"Liberation Sans", sans-serif' font-size="11.3" fill="#333" textLength="12.39" lengthAdjust="spacingAndGlyphs">20</text>
<text x="948.44" y="790.60" style='font-family:"Liberation Sans", sans-serif' font-size="11.3" fill="#333" textLength="12.39" lengthAdjust="spacingAndGlyphs">30</text>
<text x="1030.47" y="1030.90" style='font-family:"Liberation Sans", sans-serif' font-size="15" fill="#222" textLength="41.54" lengthAdjust="spacingAndGlyphs">Re(Z)</text><text x="1077.77" y="1030.90" style='font-family:"Liberation Sans", sans-serif' font-size="15" fill="#222" textLength="3.89" lengthAdjust="spacingAndGlyphs">(</text><text x="1082.82" y="1030.90" style='font-family:"Liberation Serif", serif' font-size="15" fill="#222" textLength="11.27" lengthAdjust="spacingAndGlyphs">Ω</text><text x="1093.49" y="1030.90" style='font-family:"Liberation Serif", serif' font-size="15" font-style="italic" fill="#222" textLength="19.20" lengthAdjust="spacingAndGlyphs">cm</text><text x="1115.04" y="1024.90" style='font-family:"Liberation Serif", serif' font-size="7.5" fill="#222" textLength="4.12" lengthAdjust="spacingAndGlyphs">2</text><text x="1122.34" y="1030.90" style='font-family:"Liberation Sans", sans-serif' font-size="15" fill="#222" textLength="3.64" lengthAdjust="spacingAndGlyphs">)</text>
<text x="-50.61" y="0.00" style='font-family:"Liberation Sans", sans-serif' font-size="15" fill="#222" textLength="49.85" lengthAdjust="spacingAndGlyphs" transform="translate(938.40,895.40) rotate(-90)">-Im(Z)</text><text x="1.77" y="0.00" style='font-family:"Liberation Sans", sans-serif' font-size="15" fill="#222" textLength="3.89" lengthAdjust="spacingAndGlyphs" transform="translate(938.40,895.40) rotate(-90)">(</text><text x="6.82" y="0.00" style='font-family:"Liberation Serif", serif' font-size="15" fill="#222" textLength="11.27" lengthAdjust="spacingAndGlyphs" transform="translate(938.40,895.40) rotate(-90)">Ω</text><text x="17.49" y="0.00" style='font-family:"Liberation Serif", serif' font-size="15" font-style="italic" fill="#222" textLength="19.20" lengthAdjust="spacingAndGlyphs" transform="translate(938.40,895.40) rotate(-90)">cm</text><text x="39.04" y="-6.00" style='font-family:"Liberation Serif", serif' font-size="7.5" fill="#222" textLength="4.12" lengthAdjust="spacingAndGlyphs" transform="translate(938.40,895.40) rotate(-90)">2</text><text x="45.23" y="0.00" style='font-family:"Liberation Sans", sans-serif' font-size="15" fill="#222" textLength="3.89" lengthAdjust="spacingAndGlyphs" transform="translate(938.40,895.40) rotate(-90)">)</text>
</g>
</svg>
</body></html>
